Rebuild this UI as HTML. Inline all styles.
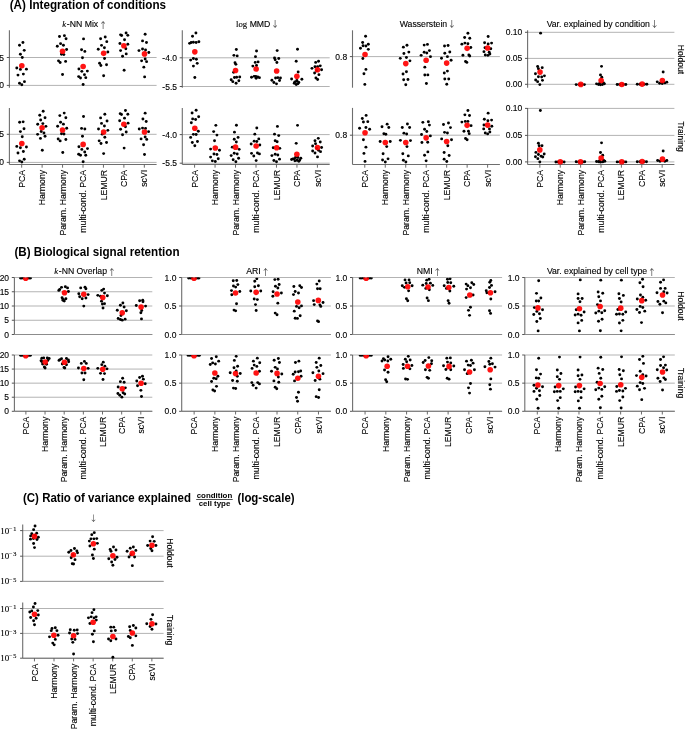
<!DOCTYPE html>
<html><head><meta charset="utf-8"><style>html,body{margin:0;padding:0;background:#fff;}svg{display:block;}</style></head>
<body>
<svg width="685" height="729" viewBox="0 0 685 729">
<rect width="100%" height="100%" fill="#fff"/>
<text transform="translate(9.7,8.8) scale(1,1.1)" font-size="11.7" font-family="'Liberation Sans', Arial, sans-serif" font-weight="bold">(A) Integration of conditions</text>
<text x="84.80" y="26.60" font-size="8.7" font-family="'Liberation Sans', Arial, sans-serif" font-weight="normal" text-anchor="middle" stroke="#000" stroke-width="0.12" ><tspan font-family="'Liberation Serif', 'DejaVu Serif', serif" font-style="italic">k</tspan><tspan dx="0.7">-NN</tspan> Mix <tspan font-family="Noto Sans CJK JP, sans-serif" dx="-2.0" dy="2.0" stroke-width="0" fill="#333">↑</tspan></text>
<line x1="9.40" y1="57.50" x2="156.60" y2="57.50" stroke="#b3b3b3" stroke-width="1.0"/>
<line x1="9.40" y1="85.40" x2="156.60" y2="85.40" stroke="#b3b3b3" stroke-width="1.0"/>
<line x1="9.40" y1="30.30" x2="9.40" y2="87.70" stroke="#6e6e6e" stroke-width="1.1"/>
<line x1="6.80" y1="57.50" x2="9.40" y2="57.50" stroke="#444" stroke-width="0.9"/>
<text x="4.10" y="60.50" font-size="8.5" font-family="'Liberation Sans', Arial, sans-serif" font-weight="normal" text-anchor="end" stroke="#000" stroke-width="0.12" >0.5</text>
<line x1="6.80" y1="85.40" x2="9.40" y2="85.40" stroke="#444" stroke-width="0.9"/>
<text x="4.10" y="88.40" font-size="8.5" font-family="'Liberation Sans', Arial, sans-serif" font-weight="normal" text-anchor="end" stroke="#000" stroke-width="0.12" >0.0</text>
<circle cx="22.92" cy="42.56" r="1.45" fill="#000"/>
<circle cx="19.53" cy="45.30" r="1.45" fill="#000"/>
<circle cx="24.23" cy="50.34" r="1.45" fill="#000"/>
<circle cx="20.40" cy="54.28" r="1.45" fill="#000"/>
<circle cx="22.26" cy="57.56" r="1.45" fill="#000"/>
<circle cx="16.79" cy="67.96" r="1.45" fill="#000"/>
<circle cx="20.40" cy="69.39" r="1.45" fill="#000"/>
<circle cx="26.42" cy="69.17" r="1.45" fill="#000"/>
<circle cx="17.99" cy="75.08" r="1.45" fill="#000"/>
<circle cx="23.36" cy="74.09" r="1.45" fill="#000"/>
<circle cx="19.53" cy="83.29" r="1.45" fill="#000"/>
<circle cx="21.82" cy="84.72" r="1.45" fill="#000"/>
<circle cx="24.45" cy="81.65" r="1.45" fill="#000"/>
<circle cx="21.82" cy="65.77" r="2.8" fill="#f00" fill-opacity="0.92"/>
<circle cx="59.49" cy="36.54" r="1.45" fill="#000"/>
<circle cx="64.42" cy="35.66" r="1.45" fill="#000"/>
<circle cx="66.06" cy="38.73" r="1.45" fill="#000"/>
<circle cx="60.58" cy="43.66" r="1.45" fill="#000"/>
<circle cx="63.43" cy="45.19" r="1.45" fill="#000"/>
<circle cx="57.30" cy="46.28" r="1.45" fill="#000"/>
<circle cx="66.61" cy="49.46" r="1.45" fill="#000"/>
<circle cx="61.46" cy="54.28" r="1.45" fill="#000"/>
<circle cx="63.87" cy="54.61" r="1.45" fill="#000"/>
<circle cx="58.50" cy="60.85" r="1.45" fill="#000"/>
<circle cx="60.15" cy="62.49" r="1.45" fill="#000"/>
<circle cx="65.62" cy="61.39" r="1.45" fill="#000"/>
<circle cx="62.55" cy="74.53" r="1.45" fill="#000"/>
<circle cx="62.55" cy="51.21" r="2.8" fill="#f00" fill-opacity="0.92"/>
<circle cx="83.53" cy="38.91" r="1.45" fill="#000"/>
<circle cx="81.56" cy="49.68" r="1.45" fill="#000"/>
<circle cx="84.85" cy="51.39" r="1.45" fill="#000"/>
<circle cx="82.48" cy="57.69" r="1.45" fill="#000"/>
<circle cx="78.93" cy="68.99" r="1.45" fill="#000"/>
<circle cx="81.82" cy="71.36" r="1.45" fill="#000"/>
<circle cx="87.34" cy="71.09" r="1.45" fill="#000"/>
<circle cx="84.45" cy="74.64" r="1.45" fill="#000"/>
<circle cx="78.67" cy="76.61" r="1.45" fill="#000"/>
<circle cx="80.51" cy="77.93" r="1.45" fill="#000"/>
<circle cx="85.77" cy="77.66" r="1.45" fill="#000"/>
<circle cx="83.14" cy="84.50" r="1.45" fill="#000"/>
<circle cx="83.14" cy="66.50" r="2.8" fill="#f00" fill-opacity="0.92"/>
<circle cx="100.61" cy="38.77" r="1.45" fill="#000"/>
<circle cx="105.21" cy="36.93" r="1.45" fill="#000"/>
<circle cx="106.79" cy="41.66" r="1.45" fill="#000"/>
<circle cx="101.53" cy="45.34" r="1.45" fill="#000"/>
<circle cx="104.42" cy="47.71" r="1.45" fill="#000"/>
<circle cx="98.25" cy="49.28" r="1.45" fill="#000"/>
<circle cx="107.84" cy="52.04" r="1.45" fill="#000"/>
<circle cx="104.55" cy="58.48" r="1.45" fill="#000"/>
<circle cx="99.56" cy="63.21" r="1.45" fill="#000"/>
<circle cx="100.88" cy="65.45" r="1.45" fill="#000"/>
<circle cx="106.53" cy="64.79" r="1.45" fill="#000"/>
<circle cx="103.64" cy="75.82" r="1.45" fill="#000"/>
<circle cx="103.64" cy="53.36" r="2.8" fill="#f00" fill-opacity="0.92"/>
<circle cx="120.58" cy="34.83" r="1.45" fill="#000"/>
<circle cx="121.64" cy="35.49" r="1.45" fill="#000"/>
<circle cx="126.10" cy="32.99" r="1.45" fill="#000"/>
<circle cx="127.81" cy="35.36" r="1.45" fill="#000"/>
<circle cx="124.53" cy="39.82" r="1.45" fill="#000"/>
<circle cx="119.93" cy="43.50" r="1.45" fill="#000"/>
<circle cx="127.81" cy="44.29" r="1.45" fill="#000"/>
<circle cx="125.84" cy="48.76" r="1.45" fill="#000"/>
<circle cx="120.58" cy="50.60" r="1.45" fill="#000"/>
<circle cx="126.23" cy="53.88" r="1.45" fill="#000"/>
<circle cx="122.55" cy="56.25" r="1.45" fill="#000"/>
<circle cx="124.13" cy="70.31" r="1.45" fill="#000"/>
<circle cx="123.87" cy="45.74" r="2.8" fill="#f00" fill-opacity="0.92"/>
<circle cx="145.15" cy="34.31" r="1.45" fill="#000"/>
<circle cx="142.53" cy="40.88" r="1.45" fill="#000"/>
<circle cx="146.47" cy="42.45" r="1.45" fill="#000"/>
<circle cx="142.53" cy="49.02" r="1.45" fill="#000"/>
<circle cx="138.98" cy="50.60" r="1.45" fill="#000"/>
<circle cx="145.55" cy="50.07" r="1.45" fill="#000"/>
<circle cx="148.83" cy="52.44" r="1.45" fill="#000"/>
<circle cx="145.15" cy="59.01" r="1.45" fill="#000"/>
<circle cx="141.61" cy="60.85" r="1.45" fill="#000"/>
<circle cx="146.60" cy="61.64" r="1.45" fill="#000"/>
<circle cx="143.84" cy="67.15" r="1.45" fill="#000"/>
<circle cx="144.63" cy="76.88" r="1.45" fill="#000"/>
<circle cx="144.50" cy="53.88" r="2.8" fill="#f00" fill-opacity="0.92"/>
<line x1="9.40" y1="134.30" x2="156.60" y2="134.30" stroke="#b3b3b3" stroke-width="1.0"/>
<line x1="9.40" y1="162.40" x2="156.60" y2="162.40" stroke="#b3b3b3" stroke-width="1.0"/>
<line x1="9.40" y1="107.90" x2="9.40" y2="164.50" stroke="#6e6e6e" stroke-width="1.1"/>
<line x1="6.80" y1="134.30" x2="9.40" y2="134.30" stroke="#444" stroke-width="0.9"/>
<text x="4.10" y="137.30" font-size="8.5" font-family="'Liberation Sans', Arial, sans-serif" font-weight="normal" text-anchor="end" stroke="#000" stroke-width="0.12" >0.5</text>
<line x1="6.80" y1="162.40" x2="9.40" y2="162.40" stroke="#444" stroke-width="0.9"/>
<text x="4.10" y="165.40" font-size="8.5" font-family="'Liberation Sans', Arial, sans-serif" font-weight="normal" text-anchor="end" stroke="#000" stroke-width="0.12" >0.0</text>
<line x1="9.40" y1="164.50" x2="156.60" y2="164.50" stroke="#6e6e6e" stroke-width="1.1"/>
<line x1="21.67" y1="164.50" x2="21.67" y2="167.70" stroke="#5a5a5a" stroke-width="0.9"/>
<line x1="42.11" y1="164.50" x2="42.11" y2="167.70" stroke="#5a5a5a" stroke-width="0.9"/>
<line x1="62.56" y1="164.50" x2="62.56" y2="167.70" stroke="#5a5a5a" stroke-width="0.9"/>
<line x1="83.00" y1="164.50" x2="83.00" y2="167.70" stroke="#5a5a5a" stroke-width="0.9"/>
<line x1="103.44" y1="164.50" x2="103.44" y2="167.70" stroke="#5a5a5a" stroke-width="0.9"/>
<line x1="123.89" y1="164.50" x2="123.89" y2="167.70" stroke="#5a5a5a" stroke-width="0.9"/>
<line x1="144.33" y1="164.50" x2="144.33" y2="167.70" stroke="#5a5a5a" stroke-width="0.9"/>
<text transform="translate(24.77,169.90) rotate(-90)" font-size="8.7" font-family="'Liberation Sans', Arial, sans-serif" text-anchor="end" stroke="#000" stroke-width="0.12">PCA</text>
<text transform="translate(45.21,169.90) rotate(-90)" font-size="8.7" font-family="'Liberation Sans', Arial, sans-serif" text-anchor="end" stroke="#000" stroke-width="0.12">Harmony</text>
<text transform="translate(65.66,169.90) rotate(-90)" font-size="8.7" font-family="'Liberation Sans', Arial, sans-serif" text-anchor="end" stroke="#000" stroke-width="0.12">Param. Harmony</text>
<text transform="translate(86.10,169.90) rotate(-90)" font-size="8.7" font-family="'Liberation Sans', Arial, sans-serif" text-anchor="end" stroke="#000" stroke-width="0.12">multi-cond. PCA</text>
<text transform="translate(106.54,169.90) rotate(-90)" font-size="8.7" font-family="'Liberation Sans', Arial, sans-serif" text-anchor="end" stroke="#000" stroke-width="0.12">LEMUR</text>
<text transform="translate(126.99,169.90) rotate(-90)" font-size="8.7" font-family="'Liberation Sans', Arial, sans-serif" text-anchor="end" stroke="#000" stroke-width="0.12">CPA</text>
<text transform="translate(147.43,169.90) rotate(-90)" font-size="8.7" font-family="'Liberation Sans', Arial, sans-serif" text-anchor="end" stroke="#000" stroke-width="0.12">scVI</text>
<circle cx="19.64" cy="122.19" r="1.45" fill="#000"/>
<circle cx="23.14" cy="121.86" r="1.45" fill="#000"/>
<circle cx="24.01" cy="128.76" r="1.45" fill="#000"/>
<circle cx="20.40" cy="131.61" r="1.45" fill="#000"/>
<circle cx="22.26" cy="136.75" r="1.45" fill="#000"/>
<circle cx="16.79" cy="146.39" r="1.45" fill="#000"/>
<circle cx="20.40" cy="147.70" r="1.45" fill="#000"/>
<circle cx="26.42" cy="147.04" r="1.45" fill="#000"/>
<circle cx="17.99" cy="152.96" r="1.45" fill="#000"/>
<circle cx="23.36" cy="151.53" r="1.45" fill="#000"/>
<circle cx="19.53" cy="160.84" r="1.45" fill="#000"/>
<circle cx="21.82" cy="161.93" r="1.45" fill="#000"/>
<circle cx="24.23" cy="159.20" r="1.45" fill="#000"/>
<circle cx="21.82" cy="143.54" r="2.8" fill="#f00" fill-opacity="0.92"/>
<circle cx="43.18" cy="111.24" r="1.45" fill="#000"/>
<circle cx="39.78" cy="115.18" r="1.45" fill="#000"/>
<circle cx="45.04" cy="117.70" r="1.45" fill="#000"/>
<circle cx="40.66" cy="120.00" r="1.45" fill="#000"/>
<circle cx="37.70" cy="124.27" r="1.45" fill="#000"/>
<circle cx="42.85" cy="123.61" r="1.45" fill="#000"/>
<circle cx="45.91" cy="126.35" r="1.45" fill="#000"/>
<circle cx="41.20" cy="131.50" r="1.45" fill="#000"/>
<circle cx="43.94" cy="133.03" r="1.45" fill="#000"/>
<circle cx="37.59" cy="134.34" r="1.45" fill="#000"/>
<circle cx="45.04" cy="136.20" r="1.45" fill="#000"/>
<circle cx="40.44" cy="138.39" r="1.45" fill="#000"/>
<circle cx="42.30" cy="150.22" r="1.45" fill="#000"/>
<circle cx="42.08" cy="127.77" r="2.8" fill="#f00" fill-opacity="0.92"/>
<circle cx="59.82" cy="115.62" r="1.45" fill="#000"/>
<circle cx="64.20" cy="113.10" r="1.45" fill="#000"/>
<circle cx="65.84" cy="117.70" r="1.45" fill="#000"/>
<circle cx="60.58" cy="122.19" r="1.45" fill="#000"/>
<circle cx="63.43" cy="124.16" r="1.45" fill="#000"/>
<circle cx="57.63" cy="126.24" r="1.45" fill="#000"/>
<circle cx="66.72" cy="128.21" r="1.45" fill="#000"/>
<circle cx="61.46" cy="133.69" r="1.45" fill="#000"/>
<circle cx="63.98" cy="134.01" r="1.45" fill="#000"/>
<circle cx="58.18" cy="138.94" r="1.45" fill="#000"/>
<circle cx="60.15" cy="140.91" r="1.45" fill="#000"/>
<circle cx="65.84" cy="139.49" r="1.45" fill="#000"/>
<circle cx="62.77" cy="152.52" r="1.45" fill="#000"/>
<circle cx="62.55" cy="129.96" r="2.8" fill="#f00" fill-opacity="0.92"/>
<circle cx="83.53" cy="116.43" r="1.45" fill="#000"/>
<circle cx="81.56" cy="128.39" r="1.45" fill="#000"/>
<circle cx="84.85" cy="129.04" r="1.45" fill="#000"/>
<circle cx="82.48" cy="136.27" r="1.45" fill="#000"/>
<circle cx="78.93" cy="146.78" r="1.45" fill="#000"/>
<circle cx="81.82" cy="149.41" r="1.45" fill="#000"/>
<circle cx="87.47" cy="148.62" r="1.45" fill="#000"/>
<circle cx="84.72" cy="152.04" r="1.45" fill="#000"/>
<circle cx="78.67" cy="154.27" r="1.45" fill="#000"/>
<circle cx="80.51" cy="155.32" r="1.45" fill="#000"/>
<circle cx="85.77" cy="155.19" r="1.45" fill="#000"/>
<circle cx="83.14" cy="161.76" r="1.45" fill="#000"/>
<circle cx="83.14" cy="144.42" r="2.8" fill="#f00" fill-opacity="0.92"/>
<circle cx="100.61" cy="117.88" r="1.45" fill="#000"/>
<circle cx="104.82" cy="114.20" r="1.45" fill="#000"/>
<circle cx="107.05" cy="121.03" r="1.45" fill="#000"/>
<circle cx="101.53" cy="123.39" r="1.45" fill="#000"/>
<circle cx="104.42" cy="126.02" r="1.45" fill="#000"/>
<circle cx="98.51" cy="129.04" r="1.45" fill="#000"/>
<circle cx="107.84" cy="130.36" r="1.45" fill="#000"/>
<circle cx="102.19" cy="134.17" r="1.45" fill="#000"/>
<circle cx="104.82" cy="137.32" r="1.45" fill="#000"/>
<circle cx="99.17" cy="140.87" r="1.45" fill="#000"/>
<circle cx="101.01" cy="143.50" r="1.45" fill="#000"/>
<circle cx="106.53" cy="142.45" r="1.45" fill="#000"/>
<circle cx="103.64" cy="153.61" r="1.45" fill="#000"/>
<circle cx="103.64" cy="132.07" r="2.8" fill="#f00" fill-opacity="0.92"/>
<circle cx="120.19" cy="113.67" r="1.45" fill="#000"/>
<circle cx="121.50" cy="114.46" r="1.45" fill="#000"/>
<circle cx="125.45" cy="110.52" r="1.45" fill="#000"/>
<circle cx="127.81" cy="114.20" r="1.45" fill="#000"/>
<circle cx="124.53" cy="118.14" r="1.45" fill="#000"/>
<circle cx="119.66" cy="120.77" r="1.45" fill="#000"/>
<circle cx="128.07" cy="123.13" r="1.45" fill="#000"/>
<circle cx="125.45" cy="126.68" r="1.45" fill="#000"/>
<circle cx="120.58" cy="129.31" r="1.45" fill="#000"/>
<circle cx="126.23" cy="131.93" r="1.45" fill="#000"/>
<circle cx="122.55" cy="134.69" r="1.45" fill="#000"/>
<circle cx="124.13" cy="148.09" r="1.45" fill="#000"/>
<circle cx="123.87" cy="124.18" r="2.8" fill="#f00" fill-opacity="0.92"/>
<circle cx="145.15" cy="113.15" r="1.45" fill="#000"/>
<circle cx="142.92" cy="118.93" r="1.45" fill="#000"/>
<circle cx="146.20" cy="121.55" r="1.45" fill="#000"/>
<circle cx="139.24" cy="129.04" r="1.45" fill="#000"/>
<circle cx="142.53" cy="128.12" r="1.45" fill="#000"/>
<circle cx="145.55" cy="128.39" r="1.45" fill="#000"/>
<circle cx="148.57" cy="131.67" r="1.45" fill="#000"/>
<circle cx="145.15" cy="136.93" r="1.45" fill="#000"/>
<circle cx="141.08" cy="138.90" r="1.45" fill="#000"/>
<circle cx="146.73" cy="139.42" r="1.45" fill="#000"/>
<circle cx="143.58" cy="144.81" r="1.45" fill="#000"/>
<circle cx="144.50" cy="154.53" r="1.45" fill="#000"/>
<circle cx="144.50" cy="132.07" r="2.8" fill="#f00" fill-opacity="0.92"/>
<text x="257.80" y="26.60" font-size="8.7" font-family="'Liberation Sans', Arial, sans-serif" font-weight="normal" text-anchor="middle" stroke="#000" stroke-width="0.12" ><tspan font-family="'Liberation Serif', 'DejaVu Serif', serif">log</tspan> MMD <tspan font-family="Noto Sans CJK JP, sans-serif" dx="-2.0" dy="0.6" stroke-width="0" fill="#333">↓</tspan></text>
<line x1="182.30" y1="57.80" x2="329.70" y2="57.80" stroke="#b3b3b3" stroke-width="1.0"/>
<line x1="182.30" y1="86.50" x2="329.70" y2="86.50" stroke="#b3b3b3" stroke-width="1.0"/>
<line x1="182.30" y1="30.30" x2="182.30" y2="87.70" stroke="#6e6e6e" stroke-width="1.1"/>
<line x1="179.70" y1="57.80" x2="182.30" y2="57.80" stroke="#444" stroke-width="0.9"/>
<text x="177.00" y="60.80" font-size="8.5" font-family="'Liberation Sans', Arial, sans-serif" font-weight="normal" text-anchor="end" stroke="#000" stroke-width="0.12" >-4.0</text>
<line x1="179.70" y1="86.50" x2="182.30" y2="86.50" stroke="#444" stroke-width="0.9"/>
<text x="177.00" y="89.50" font-size="8.5" font-family="'Liberation Sans', Arial, sans-serif" font-weight="normal" text-anchor="end" stroke="#000" stroke-width="0.12" >-5.5</text>
<circle cx="195.92" cy="32.93" r="1.45" fill="#000"/>
<circle cx="192.53" cy="36.21" r="1.45" fill="#000"/>
<circle cx="189.57" cy="43.33" r="1.45" fill="#000"/>
<circle cx="191.21" cy="42.56" r="1.45" fill="#000"/>
<circle cx="193.40" cy="42.23" r="1.45" fill="#000"/>
<circle cx="196.14" cy="42.45" r="1.45" fill="#000"/>
<circle cx="198.88" cy="41.69" r="1.45" fill="#000"/>
<circle cx="190.66" cy="60.08" r="1.45" fill="#000"/>
<circle cx="193.40" cy="58.44" r="1.45" fill="#000"/>
<circle cx="196.36" cy="59.20" r="1.45" fill="#000"/>
<circle cx="197.23" cy="63.36" r="1.45" fill="#000"/>
<circle cx="193.40" cy="66.10" r="1.45" fill="#000"/>
<circle cx="194.82" cy="77.49" r="1.45" fill="#000"/>
<circle cx="194.82" cy="51.87" r="2.8" fill="#f00" fill-opacity="0.92"/>
<circle cx="236.32" cy="49.46" r="1.45" fill="#000"/>
<circle cx="233.91" cy="55.37" r="1.45" fill="#000"/>
<circle cx="237.20" cy="55.92" r="1.45" fill="#000"/>
<circle cx="235.01" cy="62.82" r="1.45" fill="#000"/>
<circle cx="235.88" cy="64.35" r="1.45" fill="#000"/>
<circle cx="233.58" cy="72.34" r="1.45" fill="#000"/>
<circle cx="234.46" cy="77.49" r="1.45" fill="#000"/>
<circle cx="236.65" cy="77.27" r="1.45" fill="#000"/>
<circle cx="239.72" cy="77.05" r="1.45" fill="#000"/>
<circle cx="231.18" cy="79.68" r="1.45" fill="#000"/>
<circle cx="232.82" cy="81.65" r="1.45" fill="#000"/>
<circle cx="236.10" cy="83.29" r="1.45" fill="#000"/>
<circle cx="238.84" cy="80.77" r="1.45" fill="#000"/>
<circle cx="235.55" cy="70.48" r="2.8" fill="#f00" fill-opacity="0.92"/>
<circle cx="256.53" cy="50.99" r="1.45" fill="#000"/>
<circle cx="255.48" cy="56.64" r="1.45" fill="#000"/>
<circle cx="255.22" cy="62.42" r="1.45" fill="#000"/>
<circle cx="258.11" cy="61.90" r="1.45" fill="#000"/>
<circle cx="252.85" cy="66.10" r="1.45" fill="#000"/>
<circle cx="256.53" cy="65.45" r="1.45" fill="#000"/>
<circle cx="251.54" cy="77.27" r="1.45" fill="#000"/>
<circle cx="254.17" cy="76.35" r="1.45" fill="#000"/>
<circle cx="256.14" cy="78.19" r="1.45" fill="#000"/>
<circle cx="257.72" cy="76.88" r="1.45" fill="#000"/>
<circle cx="259.42" cy="77.66" r="1.45" fill="#000"/>
<circle cx="255.74" cy="76.35" r="1.45" fill="#000"/>
<circle cx="256.14" cy="68.99" r="2.8" fill="#f00" fill-opacity="0.92"/>
<circle cx="277.16" cy="50.60" r="1.45" fill="#000"/>
<circle cx="274.53" cy="57.96" r="1.45" fill="#000"/>
<circle cx="278.74" cy="58.48" r="1.45" fill="#000"/>
<circle cx="275.19" cy="59.80" r="1.45" fill="#000"/>
<circle cx="276.90" cy="62.55" r="1.45" fill="#000"/>
<circle cx="275.58" cy="77.93" r="1.45" fill="#000"/>
<circle cx="277.82" cy="77.66" r="1.45" fill="#000"/>
<circle cx="280.45" cy="77.93" r="1.45" fill="#000"/>
<circle cx="271.91" cy="80.29" r="1.45" fill="#000"/>
<circle cx="279.53" cy="80.55" r="1.45" fill="#000"/>
<circle cx="273.88" cy="82.53" r="1.45" fill="#000"/>
<circle cx="276.50" cy="83.84" r="1.45" fill="#000"/>
<circle cx="276.64" cy="70.96" r="2.8" fill="#f00" fill-opacity="0.92"/>
<circle cx="297.53" cy="49.28" r="1.45" fill="#000"/>
<circle cx="296.21" cy="61.24" r="1.45" fill="#000"/>
<circle cx="298.18" cy="72.01" r="1.45" fill="#000"/>
<circle cx="291.61" cy="78.98" r="1.45" fill="#000"/>
<circle cx="301.86" cy="79.24" r="1.45" fill="#000"/>
<circle cx="294.90" cy="81.87" r="1.45" fill="#000"/>
<circle cx="296.87" cy="81.21" r="1.45" fill="#000"/>
<circle cx="298.84" cy="82.53" r="1.45" fill="#000"/>
<circle cx="294.24" cy="83.18" r="1.45" fill="#000"/>
<circle cx="296.21" cy="84.50" r="1.45" fill="#000"/>
<circle cx="297.92" cy="83.84" r="1.45" fill="#000"/>
<circle cx="296.87" cy="80.55" r="1.45" fill="#000"/>
<circle cx="296.87" cy="76.35" r="2.8" fill="#f00" fill-opacity="0.92"/>
<circle cx="318.55" cy="61.24" r="1.45" fill="#000"/>
<circle cx="315.66" cy="62.42" r="1.45" fill="#000"/>
<circle cx="320.26" cy="65.84" r="1.45" fill="#000"/>
<circle cx="311.98" cy="68.34" r="1.45" fill="#000"/>
<circle cx="315.00" cy="66.76" r="1.45" fill="#000"/>
<circle cx="317.63" cy="66.76" r="1.45" fill="#000"/>
<circle cx="321.57" cy="69.78" r="1.45" fill="#000"/>
<circle cx="314.61" cy="73.07" r="1.45" fill="#000"/>
<circle cx="318.94" cy="74.64" r="1.45" fill="#000"/>
<circle cx="315.92" cy="77.93" r="1.45" fill="#000"/>
<circle cx="317.63" cy="79.50" r="1.45" fill="#000"/>
<circle cx="316.58" cy="70.70" r="1.45" fill="#000"/>
<circle cx="317.50" cy="69.78" r="2.8" fill="#f00" fill-opacity="0.92"/>
<line x1="182.30" y1="134.60" x2="329.70" y2="134.60" stroke="#b3b3b3" stroke-width="1.0"/>
<line x1="182.30" y1="163.20" x2="329.70" y2="163.20" stroke="#b3b3b3" stroke-width="1.0"/>
<line x1="182.30" y1="107.90" x2="182.30" y2="164.50" stroke="#6e6e6e" stroke-width="1.1"/>
<line x1="179.70" y1="134.60" x2="182.30" y2="134.60" stroke="#444" stroke-width="0.9"/>
<text x="177.00" y="137.60" font-size="8.5" font-family="'Liberation Sans', Arial, sans-serif" font-weight="normal" text-anchor="end" stroke="#000" stroke-width="0.12" >-4.0</text>
<line x1="179.70" y1="163.20" x2="182.30" y2="163.20" stroke="#444" stroke-width="0.9"/>
<text x="177.00" y="166.20" font-size="8.5" font-family="'Liberation Sans', Arial, sans-serif" font-weight="normal" text-anchor="end" stroke="#000" stroke-width="0.12" >-5.5</text>
<line x1="182.30" y1="164.50" x2="329.70" y2="164.50" stroke="#6e6e6e" stroke-width="1.1"/>
<line x1="194.58" y1="164.50" x2="194.58" y2="167.70" stroke="#5a5a5a" stroke-width="0.9"/>
<line x1="215.06" y1="164.50" x2="215.06" y2="167.70" stroke="#5a5a5a" stroke-width="0.9"/>
<line x1="235.53" y1="164.50" x2="235.53" y2="167.70" stroke="#5a5a5a" stroke-width="0.9"/>
<line x1="256.00" y1="164.50" x2="256.00" y2="167.70" stroke="#5a5a5a" stroke-width="0.9"/>
<line x1="276.47" y1="164.50" x2="276.47" y2="167.70" stroke="#5a5a5a" stroke-width="0.9"/>
<line x1="296.94" y1="164.50" x2="296.94" y2="167.70" stroke="#5a5a5a" stroke-width="0.9"/>
<line x1="317.42" y1="164.50" x2="317.42" y2="167.70" stroke="#5a5a5a" stroke-width="0.9"/>
<text transform="translate(197.68,169.90) rotate(-90)" font-size="8.7" font-family="'Liberation Sans', Arial, sans-serif" text-anchor="end" stroke="#000" stroke-width="0.12">PCA</text>
<text transform="translate(218.16,169.90) rotate(-90)" font-size="8.7" font-family="'Liberation Sans', Arial, sans-serif" text-anchor="end" stroke="#000" stroke-width="0.12">Harmony</text>
<text transform="translate(238.63,169.90) rotate(-90)" font-size="8.7" font-family="'Liberation Sans', Arial, sans-serif" text-anchor="end" stroke="#000" stroke-width="0.12">Param. Harmony</text>
<text transform="translate(259.10,169.90) rotate(-90)" font-size="8.7" font-family="'Liberation Sans', Arial, sans-serif" text-anchor="end" stroke="#000" stroke-width="0.12">multi-cond. PCA</text>
<text transform="translate(279.57,169.90) rotate(-90)" font-size="8.7" font-family="'Liberation Sans', Arial, sans-serif" text-anchor="end" stroke="#000" stroke-width="0.12">LEMUR</text>
<text transform="translate(300.04,169.90) rotate(-90)" font-size="8.7" font-family="'Liberation Sans', Arial, sans-serif" text-anchor="end" stroke="#000" stroke-width="0.12">CPA</text>
<text transform="translate(320.52,169.90) rotate(-90)" font-size="8.7" font-family="'Liberation Sans', Arial, sans-serif" text-anchor="end" stroke="#000" stroke-width="0.12">scVI</text>
<circle cx="196.14" cy="110.26" r="1.45" fill="#000"/>
<circle cx="192.09" cy="112.99" r="1.45" fill="#000"/>
<circle cx="192.64" cy="118.91" r="1.45" fill="#000"/>
<circle cx="195.59" cy="119.45" r="1.45" fill="#000"/>
<circle cx="198.66" cy="116.82" r="1.45" fill="#000"/>
<circle cx="191.32" cy="122.74" r="1.45" fill="#000"/>
<circle cx="198.33" cy="131.28" r="1.45" fill="#000"/>
<circle cx="193.40" cy="134.34" r="1.45" fill="#000"/>
<circle cx="196.14" cy="134.56" r="1.45" fill="#000"/>
<circle cx="190.66" cy="137.41" r="1.45" fill="#000"/>
<circle cx="192.31" cy="142.45" r="1.45" fill="#000"/>
<circle cx="197.45" cy="141.57" r="1.45" fill="#000"/>
<circle cx="194.82" cy="145.73" r="1.45" fill="#000"/>
<circle cx="194.82" cy="128.32" r="2.8" fill="#f00" fill-opacity="0.92"/>
<circle cx="215.85" cy="125.36" r="1.45" fill="#000"/>
<circle cx="213.66" cy="131.61" r="1.45" fill="#000"/>
<circle cx="216.94" cy="135.11" r="1.45" fill="#000"/>
<circle cx="214.53" cy="140.80" r="1.45" fill="#000"/>
<circle cx="210.59" cy="149.12" r="1.45" fill="#000"/>
<circle cx="219.46" cy="150.22" r="1.45" fill="#000"/>
<circle cx="213.99" cy="154.05" r="1.45" fill="#000"/>
<circle cx="216.94" cy="154.49" r="1.45" fill="#000"/>
<circle cx="210.59" cy="157.12" r="1.45" fill="#000"/>
<circle cx="218.26" cy="158.76" r="1.45" fill="#000"/>
<circle cx="212.34" cy="160.84" r="1.45" fill="#000"/>
<circle cx="215.30" cy="161.50" r="1.45" fill="#000"/>
<circle cx="215.30" cy="148.03" r="2.8" fill="#f00" fill-opacity="0.92"/>
<circle cx="236.43" cy="125.26" r="1.45" fill="#000"/>
<circle cx="234.46" cy="132.15" r="1.45" fill="#000"/>
<circle cx="238.07" cy="137.41" r="1.45" fill="#000"/>
<circle cx="234.24" cy="139.27" r="1.45" fill="#000"/>
<circle cx="236.32" cy="142.01" r="1.45" fill="#000"/>
<circle cx="232.27" cy="147.15" r="1.45" fill="#000"/>
<circle cx="239.17" cy="149.34" r="1.45" fill="#000"/>
<circle cx="234.24" cy="153.18" r="1.45" fill="#000"/>
<circle cx="237.20" cy="154.05" r="1.45" fill="#000"/>
<circle cx="231.18" cy="155.58" r="1.45" fill="#000"/>
<circle cx="238.62" cy="158.32" r="1.45" fill="#000"/>
<circle cx="233.15" cy="159.74" r="1.45" fill="#000"/>
<circle cx="235.88" cy="161.72" r="1.45" fill="#000"/>
<circle cx="235.55" cy="147.15" r="2.8" fill="#f00" fill-opacity="0.92"/>
<circle cx="256.80" cy="127.99" r="1.45" fill="#000"/>
<circle cx="254.82" cy="134.17" r="1.45" fill="#000"/>
<circle cx="258.77" cy="138.90" r="1.45" fill="#000"/>
<circle cx="254.17" cy="141.13" r="1.45" fill="#000"/>
<circle cx="256.80" cy="141.53" r="1.45" fill="#000"/>
<circle cx="251.15" cy="144.02" r="1.45" fill="#000"/>
<circle cx="259.82" cy="145.07" r="1.45" fill="#000"/>
<circle cx="251.54" cy="153.35" r="1.45" fill="#000"/>
<circle cx="253.77" cy="155.98" r="1.45" fill="#000"/>
<circle cx="257.45" cy="152.96" r="1.45" fill="#000"/>
<circle cx="259.42" cy="153.88" r="1.45" fill="#000"/>
<circle cx="256.14" cy="160.58" r="1.45" fill="#000"/>
<circle cx="256.14" cy="145.99" r="2.8" fill="#f00" fill-opacity="0.92"/>
<circle cx="277.42" cy="126.42" r="1.45" fill="#000"/>
<circle cx="274.53" cy="134.17" r="1.45" fill="#000"/>
<circle cx="278.74" cy="135.61" r="1.45" fill="#000"/>
<circle cx="275.19" cy="140.74" r="1.45" fill="#000"/>
<circle cx="277.16" cy="141.79" r="1.45" fill="#000"/>
<circle cx="273.22" cy="147.70" r="1.45" fill="#000"/>
<circle cx="279.79" cy="148.36" r="1.45" fill="#000"/>
<circle cx="275.19" cy="154.27" r="1.45" fill="#000"/>
<circle cx="277.82" cy="154.93" r="1.45" fill="#000"/>
<circle cx="271.91" cy="155.58" r="1.45" fill="#000"/>
<circle cx="279.53" cy="159.13" r="1.45" fill="#000"/>
<circle cx="273.88" cy="160.45" r="1.45" fill="#000"/>
<circle cx="276.50" cy="161.76" r="1.45" fill="#000"/>
<circle cx="276.64" cy="147.70" r="2.8" fill="#f00" fill-opacity="0.92"/>
<circle cx="297.53" cy="125.36" r="1.45" fill="#000"/>
<circle cx="296.21" cy="143.36" r="1.45" fill="#000"/>
<circle cx="292.93" cy="158.87" r="1.45" fill="#000"/>
<circle cx="294.90" cy="160.84" r="1.45" fill="#000"/>
<circle cx="296.87" cy="160.18" r="1.45" fill="#000"/>
<circle cx="298.84" cy="161.23" r="1.45" fill="#000"/>
<circle cx="300.81" cy="158.21" r="1.45" fill="#000"/>
<circle cx="295.55" cy="157.55" r="1.45" fill="#000"/>
<circle cx="297.92" cy="157.55" r="1.45" fill="#000"/>
<circle cx="291.61" cy="159.53" r="1.45" fill="#000"/>
<circle cx="299.76" cy="159.92" r="1.45" fill="#000"/>
<circle cx="294.24" cy="158.87" r="1.45" fill="#000"/>
<circle cx="296.87" cy="154.27" r="2.8" fill="#f00" fill-opacity="0.92"/>
<circle cx="318.28" cy="138.37" r="1.45" fill="#000"/>
<circle cx="315.00" cy="140.74" r="1.45" fill="#000"/>
<circle cx="320.26" cy="142.05" r="1.45" fill="#000"/>
<circle cx="315.53" cy="143.76" r="1.45" fill="#000"/>
<circle cx="312.64" cy="145.99" r="1.45" fill="#000"/>
<circle cx="321.57" cy="147.44" r="1.45" fill="#000"/>
<circle cx="312.64" cy="150.99" r="1.45" fill="#000"/>
<circle cx="315.00" cy="152.96" r="1.45" fill="#000"/>
<circle cx="320.52" cy="151.64" r="1.45" fill="#000"/>
<circle cx="317.50" cy="156.90" r="1.45" fill="#000"/>
<circle cx="318.55" cy="150.33" r="1.45" fill="#000"/>
<circle cx="316.58" cy="148.36" r="1.45" fill="#000"/>
<circle cx="317.50" cy="147.44" r="2.8" fill="#f00" fill-opacity="0.92"/>
<text x="428.00" y="26.60" font-size="8.7" font-family="'Liberation Sans', Arial, sans-serif" font-weight="normal" text-anchor="middle" stroke="#000" stroke-width="0.12" >Wasserstein <tspan font-family="Noto Sans CJK JP, sans-serif" dx="-2.0" dy="0.6" stroke-width="0" fill="#333">↓</tspan></text>
<line x1="352.50" y1="56.60" x2="499.90" y2="56.60" stroke="#b3b3b3" stroke-width="1.0"/>
<line x1="352.50" y1="30.30" x2="352.50" y2="87.70" stroke="#6e6e6e" stroke-width="1.1"/>
<line x1="349.90" y1="56.60" x2="352.50" y2="56.60" stroke="#444" stroke-width="0.9"/>
<text x="347.20" y="59.60" font-size="8.5" font-family="'Liberation Sans', Arial, sans-serif" font-weight="normal" text-anchor="end" stroke="#000" stroke-width="0.12" >0.8</text>
<circle cx="365.59" cy="36.21" r="1.45" fill="#000"/>
<circle cx="362.64" cy="42.45" r="1.45" fill="#000"/>
<circle cx="368.33" cy="44.20" r="1.45" fill="#000"/>
<circle cx="363.07" cy="45.74" r="1.45" fill="#000"/>
<circle cx="365.92" cy="46.07" r="1.45" fill="#000"/>
<circle cx="360.45" cy="48.26" r="1.45" fill="#000"/>
<circle cx="368.33" cy="49.35" r="1.45" fill="#000"/>
<circle cx="362.85" cy="58.44" r="1.45" fill="#000"/>
<circle cx="365.92" cy="69.39" r="1.45" fill="#000"/>
<circle cx="363.95" cy="73.77" r="1.45" fill="#000"/>
<circle cx="364.82" cy="84.39" r="1.45" fill="#000"/>
<circle cx="365.04" cy="54.50" r="2.8" fill="#f00" fill-opacity="0.92"/>
<circle cx="403.36" cy="47.16" r="1.45" fill="#000"/>
<circle cx="406.98" cy="45.30" r="1.45" fill="#000"/>
<circle cx="403.91" cy="53.51" r="1.45" fill="#000"/>
<circle cx="408.84" cy="52.09" r="1.45" fill="#000"/>
<circle cx="406.43" cy="57.56" r="1.45" fill="#000"/>
<circle cx="400.30" cy="58.33" r="1.45" fill="#000"/>
<circle cx="409.93" cy="60.85" r="1.45" fill="#000"/>
<circle cx="406.43" cy="71.80" r="1.45" fill="#000"/>
<circle cx="403.04" cy="73.99" r="1.45" fill="#000"/>
<circle cx="403.69" cy="79.68" r="1.45" fill="#000"/>
<circle cx="407.96" cy="79.46" r="1.45" fill="#000"/>
<circle cx="405.77" cy="84.72" r="1.45" fill="#000"/>
<circle cx="405.77" cy="63.58" r="2.8" fill="#f00" fill-opacity="0.92"/>
<circle cx="424.17" cy="45.08" r="1.45" fill="#000"/>
<circle cx="427.45" cy="44.42" r="1.45" fill="#000"/>
<circle cx="424.17" cy="52.31" r="1.45" fill="#000"/>
<circle cx="426.80" cy="52.96" r="1.45" fill="#000"/>
<circle cx="429.42" cy="50.60" r="1.45" fill="#000"/>
<circle cx="421.15" cy="55.33" r="1.45" fill="#000"/>
<circle cx="430.47" cy="56.64" r="1.45" fill="#000"/>
<circle cx="424.82" cy="67.15" r="1.45" fill="#000"/>
<circle cx="424.82" cy="75.04" r="1.45" fill="#000"/>
<circle cx="427.85" cy="74.91" r="1.45" fill="#000"/>
<circle cx="426.40" cy="83.45" r="1.45" fill="#000"/>
<circle cx="426.14" cy="60.19" r="2.8" fill="#f00" fill-opacity="0.92"/>
<circle cx="444.53" cy="46.00" r="1.45" fill="#000"/>
<circle cx="448.08" cy="45.47" r="1.45" fill="#000"/>
<circle cx="444.80" cy="53.23" r="1.45" fill="#000"/>
<circle cx="449.79" cy="52.04" r="1.45" fill="#000"/>
<circle cx="447.42" cy="56.64" r="1.45" fill="#000"/>
<circle cx="441.51" cy="58.22" r="1.45" fill="#000"/>
<circle cx="451.10" cy="60.19" r="1.45" fill="#000"/>
<circle cx="447.42" cy="71.09" r="1.45" fill="#000"/>
<circle cx="444.27" cy="72.93" r="1.45" fill="#000"/>
<circle cx="444.80" cy="78.98" r="1.45" fill="#000"/>
<circle cx="448.74" cy="78.98" r="1.45" fill="#000"/>
<circle cx="446.77" cy="84.23" r="1.45" fill="#000"/>
<circle cx="446.64" cy="63.08" r="2.8" fill="#f00" fill-opacity="0.92"/>
<circle cx="467.92" cy="33.26" r="1.45" fill="#000"/>
<circle cx="464.64" cy="37.46" r="1.45" fill="#000"/>
<circle cx="469.76" cy="38.25" r="1.45" fill="#000"/>
<circle cx="461.88" cy="44.16" r="1.45" fill="#000"/>
<circle cx="464.90" cy="43.11" r="1.45" fill="#000"/>
<circle cx="467.92" cy="43.77" r="1.45" fill="#000"/>
<circle cx="470.81" cy="47.45" r="1.45" fill="#000"/>
<circle cx="462.93" cy="55.20" r="1.45" fill="#000"/>
<circle cx="468.84" cy="54.93" r="1.45" fill="#000"/>
<circle cx="469.76" cy="55.99" r="1.45" fill="#000"/>
<circle cx="465.55" cy="61.50" r="1.45" fill="#000"/>
<circle cx="466.87" cy="62.42" r="1.45" fill="#000"/>
<circle cx="467.13" cy="48.36" r="2.8" fill="#f00" fill-opacity="0.92"/>
<circle cx="488.15" cy="36.54" r="1.45" fill="#000"/>
<circle cx="484.61" cy="42.72" r="1.45" fill="#000"/>
<circle cx="488.15" cy="44.03" r="1.45" fill="#000"/>
<circle cx="491.57" cy="43.11" r="1.45" fill="#000"/>
<circle cx="485.00" cy="47.71" r="1.45" fill="#000"/>
<circle cx="490.78" cy="48.76" r="1.45" fill="#000"/>
<circle cx="483.95" cy="51.65" r="1.45" fill="#000"/>
<circle cx="489.20" cy="52.31" r="1.45" fill="#000"/>
<circle cx="485.26" cy="54.93" r="1.45" fill="#000"/>
<circle cx="487.89" cy="55.33" r="1.45" fill="#000"/>
<circle cx="489.86" cy="54.01" r="1.45" fill="#000"/>
<circle cx="487.63" cy="47.97" r="2.8" fill="#f00" fill-opacity="0.92"/>
<line x1="352.50" y1="135.20" x2="499.90" y2="135.20" stroke="#b3b3b3" stroke-width="1.0"/>
<line x1="352.50" y1="107.90" x2="352.50" y2="164.50" stroke="#6e6e6e" stroke-width="1.1"/>
<line x1="349.90" y1="135.20" x2="352.50" y2="135.20" stroke="#444" stroke-width="0.9"/>
<text x="347.20" y="138.20" font-size="8.5" font-family="'Liberation Sans', Arial, sans-serif" font-weight="normal" text-anchor="end" stroke="#000" stroke-width="0.12" >0.8</text>
<line x1="352.50" y1="164.50" x2="499.90" y2="164.50" stroke="#6e6e6e" stroke-width="1.1"/>
<line x1="364.78" y1="164.50" x2="364.78" y2="167.70" stroke="#5a5a5a" stroke-width="0.9"/>
<line x1="385.26" y1="164.50" x2="385.26" y2="167.70" stroke="#5a5a5a" stroke-width="0.9"/>
<line x1="405.73" y1="164.50" x2="405.73" y2="167.70" stroke="#5a5a5a" stroke-width="0.9"/>
<line x1="426.20" y1="164.50" x2="426.20" y2="167.70" stroke="#5a5a5a" stroke-width="0.9"/>
<line x1="446.67" y1="164.50" x2="446.67" y2="167.70" stroke="#5a5a5a" stroke-width="0.9"/>
<line x1="467.14" y1="164.50" x2="467.14" y2="167.70" stroke="#5a5a5a" stroke-width="0.9"/>
<line x1="487.62" y1="164.50" x2="487.62" y2="167.70" stroke="#5a5a5a" stroke-width="0.9"/>
<text transform="translate(367.88,169.90) rotate(-90)" font-size="8.7" font-family="'Liberation Sans', Arial, sans-serif" text-anchor="end" stroke="#000" stroke-width="0.12">PCA</text>
<text transform="translate(388.36,169.90) rotate(-90)" font-size="8.7" font-family="'Liberation Sans', Arial, sans-serif" text-anchor="end" stroke="#000" stroke-width="0.12">Harmony</text>
<text transform="translate(408.83,169.90) rotate(-90)" font-size="8.7" font-family="'Liberation Sans', Arial, sans-serif" text-anchor="end" stroke="#000" stroke-width="0.12">Param. Harmony</text>
<text transform="translate(429.30,169.90) rotate(-90)" font-size="8.7" font-family="'Liberation Sans', Arial, sans-serif" text-anchor="end" stroke="#000" stroke-width="0.12">multi-cond. PCA</text>
<text transform="translate(449.77,169.90) rotate(-90)" font-size="8.7" font-family="'Liberation Sans', Arial, sans-serif" text-anchor="end" stroke="#000" stroke-width="0.12">LEMUR</text>
<text transform="translate(470.24,169.90) rotate(-90)" font-size="8.7" font-family="'Liberation Sans', Arial, sans-serif" text-anchor="end" stroke="#000" stroke-width="0.12">CPA</text>
<text transform="translate(490.72,169.90) rotate(-90)" font-size="8.7" font-family="'Liberation Sans', Arial, sans-serif" text-anchor="end" stroke="#000" stroke-width="0.12">scVI</text>
<circle cx="366.14" cy="115.40" r="1.45" fill="#000"/>
<circle cx="362.31" cy="118.47" r="1.45" fill="#000"/>
<circle cx="363.40" cy="121.97" r="1.45" fill="#000"/>
<circle cx="367.78" cy="121.64" r="1.45" fill="#000"/>
<circle cx="359.57" cy="128.21" r="1.45" fill="#000"/>
<circle cx="365.92" cy="127.45" r="1.45" fill="#000"/>
<circle cx="369.64" cy="129.31" r="1.45" fill="#000"/>
<circle cx="363.40" cy="139.82" r="1.45" fill="#000"/>
<circle cx="365.92" cy="147.15" r="1.45" fill="#000"/>
<circle cx="363.95" cy="153.39" r="1.45" fill="#000"/>
<circle cx="365.04" cy="161.39" r="1.45" fill="#000"/>
<circle cx="365.04" cy="132.70" r="2.8" fill="#f00" fill-opacity="0.92"/>
<circle cx="382.01" cy="126.68" r="1.45" fill="#000"/>
<circle cx="387.16" cy="124.16" r="1.45" fill="#000"/>
<circle cx="388.80" cy="127.45" r="1.45" fill="#000"/>
<circle cx="383.88" cy="133.69" r="1.45" fill="#000"/>
<circle cx="385.85" cy="134.23" r="1.45" fill="#000"/>
<circle cx="380.15" cy="141.46" r="1.45" fill="#000"/>
<circle cx="390.23" cy="141.46" r="1.45" fill="#000"/>
<circle cx="386.72" cy="146.61" r="1.45" fill="#000"/>
<circle cx="383.11" cy="153.72" r="1.45" fill="#000"/>
<circle cx="388.04" cy="158.87" r="1.45" fill="#000"/>
<circle cx="382.56" cy="159.96" r="1.45" fill="#000"/>
<circle cx="385.30" cy="161.93" r="1.45" fill="#000"/>
<circle cx="385.30" cy="142.55" r="2.8" fill="#f00" fill-opacity="0.92"/>
<circle cx="402.27" cy="127.45" r="1.45" fill="#000"/>
<circle cx="407.42" cy="123.94" r="1.45" fill="#000"/>
<circle cx="409.61" cy="127.45" r="1.45" fill="#000"/>
<circle cx="403.91" cy="133.14" r="1.45" fill="#000"/>
<circle cx="406.65" cy="134.01" r="1.45" fill="#000"/>
<circle cx="400.41" cy="140.36" r="1.45" fill="#000"/>
<circle cx="410.48" cy="140.58" r="1.45" fill="#000"/>
<circle cx="406.98" cy="146.61" r="1.45" fill="#000"/>
<circle cx="402.82" cy="153.72" r="1.45" fill="#000"/>
<circle cx="408.29" cy="155.91" r="1.45" fill="#000"/>
<circle cx="403.36" cy="160.29" r="1.45" fill="#000"/>
<circle cx="405.88" cy="161.93" r="1.45" fill="#000"/>
<circle cx="405.77" cy="142.45" r="2.8" fill="#f00" fill-opacity="0.92"/>
<circle cx="422.85" cy="122.34" r="1.45" fill="#000"/>
<circle cx="428.37" cy="121.82" r="1.45" fill="#000"/>
<circle cx="429.42" cy="125.10" r="1.45" fill="#000"/>
<circle cx="424.56" cy="129.31" r="1.45" fill="#000"/>
<circle cx="426.80" cy="131.54" r="1.45" fill="#000"/>
<circle cx="421.54" cy="134.56" r="1.45" fill="#000"/>
<circle cx="430.34" cy="135.88" r="1.45" fill="#000"/>
<circle cx="421.93" cy="142.45" r="1.45" fill="#000"/>
<circle cx="427.72" cy="142.18" r="1.45" fill="#000"/>
<circle cx="427.85" cy="151.91" r="1.45" fill="#000"/>
<circle cx="424.56" cy="155.19" r="1.45" fill="#000"/>
<circle cx="426.14" cy="160.84" r="1.45" fill="#000"/>
<circle cx="426.14" cy="137.85" r="2.8" fill="#f00" fill-opacity="0.92"/>
<circle cx="443.48" cy="124.45" r="1.45" fill="#000"/>
<circle cx="448.47" cy="123.00" r="1.45" fill="#000"/>
<circle cx="450.45" cy="127.60" r="1.45" fill="#000"/>
<circle cx="444.53" cy="132.33" r="1.45" fill="#000"/>
<circle cx="447.42" cy="132.99" r="1.45" fill="#000"/>
<circle cx="441.64" cy="138.90" r="1.45" fill="#000"/>
<circle cx="451.50" cy="139.82" r="1.45" fill="#000"/>
<circle cx="447.82" cy="145.73" r="1.45" fill="#000"/>
<circle cx="444.14" cy="152.56" r="1.45" fill="#000"/>
<circle cx="449.13" cy="155.45" r="1.45" fill="#000"/>
<circle cx="444.14" cy="159.13" r="1.45" fill="#000"/>
<circle cx="446.77" cy="161.50" r="1.45" fill="#000"/>
<circle cx="446.64" cy="141.53" r="2.8" fill="#f00" fill-opacity="0.92"/>
<circle cx="467.92" cy="110.52" r="1.45" fill="#000"/>
<circle cx="464.90" cy="114.85" r="1.45" fill="#000"/>
<circle cx="469.50" cy="115.51" r="1.45" fill="#000"/>
<circle cx="461.88" cy="122.08" r="1.45" fill="#000"/>
<circle cx="465.29" cy="121.42" r="1.45" fill="#000"/>
<circle cx="467.92" cy="121.42" r="1.45" fill="#000"/>
<circle cx="471.07" cy="125.63" r="1.45" fill="#000"/>
<circle cx="463.98" cy="131.28" r="1.45" fill="#000"/>
<circle cx="468.45" cy="131.28" r="1.45" fill="#000"/>
<circle cx="469.23" cy="133.64" r="1.45" fill="#000"/>
<circle cx="465.55" cy="138.50" r="1.45" fill="#000"/>
<circle cx="467.13" cy="139.82" r="1.45" fill="#000"/>
<circle cx="467.13" cy="125.36" r="2.8" fill="#f00" fill-opacity="0.92"/>
<circle cx="488.15" cy="113.15" r="1.45" fill="#000"/>
<circle cx="484.34" cy="119.19" r="1.45" fill="#000"/>
<circle cx="491.57" cy="120.11" r="1.45" fill="#000"/>
<circle cx="487.89" cy="120.77" r="1.45" fill="#000"/>
<circle cx="483.95" cy="124.97" r="1.45" fill="#000"/>
<circle cx="491.83" cy="126.28" r="1.45" fill="#000"/>
<circle cx="483.69" cy="128.91" r="1.45" fill="#000"/>
<circle cx="489.47" cy="128.91" r="1.45" fill="#000"/>
<circle cx="485.26" cy="132.99" r="1.45" fill="#000"/>
<circle cx="487.63" cy="133.91" r="1.45" fill="#000"/>
<circle cx="489.86" cy="131.93" r="1.45" fill="#000"/>
<circle cx="487.63" cy="125.10" r="2.8" fill="#f00" fill-opacity="0.92"/>
<text x="602.80" y="26.60" font-size="8.7" font-family="'Liberation Sans', Arial, sans-serif" font-weight="normal" text-anchor="middle" stroke="#000" stroke-width="0.12" >Var. explained by condition <tspan font-family="Noto Sans CJK JP, sans-serif" dx="-2.0" dy="0.6" stroke-width="0" fill="#333">↓</tspan></text>
<line x1="527.60" y1="32.30" x2="674.40" y2="32.30" stroke="#b3b3b3" stroke-width="1.0"/>
<line x1="527.60" y1="58.40" x2="674.40" y2="58.40" stroke="#b3b3b3" stroke-width="1.0"/>
<line x1="527.60" y1="84.30" x2="674.40" y2="84.30" stroke="#b3b3b3" stroke-width="1.0"/>
<line x1="527.60" y1="30.30" x2="527.60" y2="87.70" stroke="#6e6e6e" stroke-width="1.1"/>
<line x1="525.00" y1="32.30" x2="527.60" y2="32.30" stroke="#444" stroke-width="0.9"/>
<text x="522.30" y="35.30" font-size="8.5" font-family="'Liberation Sans', Arial, sans-serif" font-weight="normal" text-anchor="end" stroke="#000" stroke-width="0.12" >0.10</text>
<line x1="525.00" y1="58.40" x2="527.60" y2="58.40" stroke="#444" stroke-width="0.9"/>
<text x="522.30" y="61.40" font-size="8.5" font-family="'Liberation Sans', Arial, sans-serif" font-weight="normal" text-anchor="end" stroke="#000" stroke-width="0.12" >0.05</text>
<line x1="525.00" y1="84.30" x2="527.60" y2="84.30" stroke="#444" stroke-width="0.9"/>
<text x="522.30" y="87.30" font-size="8.5" font-family="'Liberation Sans', Arial, sans-serif" font-weight="normal" text-anchor="end" stroke="#000" stroke-width="0.12" >0.00</text>
<circle cx="540.59" cy="33.15" r="1.45" fill="#000"/>
<circle cx="537.64" cy="66.54" r="1.45" fill="#000"/>
<circle cx="538.40" cy="68.73" r="1.45" fill="#000"/>
<circle cx="542.23" cy="67.64" r="1.45" fill="#000"/>
<circle cx="535.45" cy="73.77" r="1.45" fill="#000"/>
<circle cx="538.40" cy="76.72" r="1.45" fill="#000"/>
<circle cx="541.69" cy="76.94" r="1.45" fill="#000"/>
<circle cx="544.42" cy="75.85" r="1.45" fill="#000"/>
<circle cx="535.66" cy="80.01" r="1.45" fill="#000"/>
<circle cx="537.64" cy="81.65" r="1.45" fill="#000"/>
<circle cx="542.45" cy="80.34" r="1.45" fill="#000"/>
<circle cx="539.82" cy="84.61" r="1.45" fill="#000"/>
<circle cx="540.04" cy="72.12" r="2.8" fill="#f00" fill-opacity="0.92"/>
<circle cx="576.18" cy="84.61" r="1.45" fill="#000"/>
<circle cx="578.91" cy="84.61" r="1.45" fill="#000"/>
<circle cx="582.20" cy="84.61" r="1.45" fill="#000"/>
<circle cx="584.39" cy="84.61" r="1.45" fill="#000"/>
<circle cx="580.55" cy="84.61" r="1.45" fill="#000"/>
<circle cx="580.77" cy="84.39" r="2.8" fill="#f00" fill-opacity="0.92"/>
<circle cx="601.53" cy="66.36" r="1.45" fill="#000"/>
<circle cx="600.48" cy="74.91" r="1.45" fill="#000"/>
<circle cx="601.80" cy="77.27" r="1.45" fill="#000"/>
<circle cx="596.54" cy="83.84" r="1.45" fill="#000"/>
<circle cx="598.51" cy="84.50" r="1.45" fill="#000"/>
<circle cx="600.48" cy="84.76" r="1.45" fill="#000"/>
<circle cx="602.45" cy="84.50" r="1.45" fill="#000"/>
<circle cx="604.42" cy="83.84" r="1.45" fill="#000"/>
<circle cx="599.56" cy="83.45" r="1.45" fill="#000"/>
<circle cx="603.50" cy="82.92" r="1.45" fill="#000"/>
<circle cx="601.14" cy="80.55" r="2.8" fill="#f00" fill-opacity="0.92"/>
<circle cx="617.17" cy="84.50" r="1.45" fill="#000"/>
<circle cx="619.53" cy="84.50" r="1.45" fill="#000"/>
<circle cx="623.47" cy="84.50" r="1.45" fill="#000"/>
<circle cx="625.84" cy="84.50" r="1.45" fill="#000"/>
<circle cx="621.77" cy="84.50" r="2.8" fill="#f00" fill-opacity="0.92"/>
<circle cx="637.27" cy="84.23" r="1.45" fill="#000"/>
<circle cx="639.90" cy="84.23" r="1.45" fill="#000"/>
<circle cx="644.50" cy="84.23" r="1.45" fill="#000"/>
<circle cx="646.86" cy="84.23" r="1.45" fill="#000"/>
<circle cx="642.13" cy="84.10" r="2.8" fill="#f00" fill-opacity="0.92"/>
<circle cx="663.15" cy="72.01" r="1.45" fill="#000"/>
<circle cx="657.24" cy="81.87" r="1.45" fill="#000"/>
<circle cx="659.61" cy="83.18" r="1.45" fill="#000"/>
<circle cx="662.23" cy="83.45" r="1.45" fill="#000"/>
<circle cx="664.86" cy="82.92" r="1.45" fill="#000"/>
<circle cx="666.83" cy="82.13" r="1.45" fill="#000"/>
<circle cx="662.36" cy="80.55" r="2.8" fill="#f00" fill-opacity="0.92"/>
<line x1="527.60" y1="108.40" x2="674.40" y2="108.40" stroke="#b3b3b3" stroke-width="1.0"/>
<line x1="527.60" y1="135.40" x2="674.40" y2="135.40" stroke="#b3b3b3" stroke-width="1.0"/>
<line x1="527.60" y1="161.90" x2="674.40" y2="161.90" stroke="#b3b3b3" stroke-width="1.0"/>
<line x1="527.60" y1="107.90" x2="527.60" y2="164.50" stroke="#6e6e6e" stroke-width="1.1"/>
<line x1="525.00" y1="108.40" x2="527.60" y2="108.40" stroke="#444" stroke-width="0.9"/>
<text x="522.30" y="111.40" font-size="8.5" font-family="'Liberation Sans', Arial, sans-serif" font-weight="normal" text-anchor="end" stroke="#000" stroke-width="0.12" >0.10</text>
<line x1="525.00" y1="135.40" x2="527.60" y2="135.40" stroke="#444" stroke-width="0.9"/>
<text x="522.30" y="138.40" font-size="8.5" font-family="'Liberation Sans', Arial, sans-serif" font-weight="normal" text-anchor="end" stroke="#000" stroke-width="0.12" >0.05</text>
<line x1="525.00" y1="161.90" x2="527.60" y2="161.90" stroke="#444" stroke-width="0.9"/>
<text x="522.30" y="164.90" font-size="8.5" font-family="'Liberation Sans', Arial, sans-serif" font-weight="normal" text-anchor="end" stroke="#000" stroke-width="0.12" >0.00</text>
<line x1="527.60" y1="164.50" x2="674.40" y2="164.50" stroke="#6e6e6e" stroke-width="1.1"/>
<line x1="539.83" y1="164.50" x2="539.83" y2="167.70" stroke="#5a5a5a" stroke-width="0.9"/>
<line x1="560.22" y1="164.50" x2="560.22" y2="167.70" stroke="#5a5a5a" stroke-width="0.9"/>
<line x1="580.61" y1="164.50" x2="580.61" y2="167.70" stroke="#5a5a5a" stroke-width="0.9"/>
<line x1="601.00" y1="164.50" x2="601.00" y2="167.70" stroke="#5a5a5a" stroke-width="0.9"/>
<line x1="621.39" y1="164.50" x2="621.39" y2="167.70" stroke="#5a5a5a" stroke-width="0.9"/>
<line x1="641.78" y1="164.50" x2="641.78" y2="167.70" stroke="#5a5a5a" stroke-width="0.9"/>
<line x1="662.17" y1="164.50" x2="662.17" y2="167.70" stroke="#5a5a5a" stroke-width="0.9"/>
<text transform="translate(542.93,169.90) rotate(-90)" font-size="8.7" font-family="'Liberation Sans', Arial, sans-serif" text-anchor="end" stroke="#000" stroke-width="0.12">PCA</text>
<text transform="translate(563.32,169.90) rotate(-90)" font-size="8.7" font-family="'Liberation Sans', Arial, sans-serif" text-anchor="end" stroke="#000" stroke-width="0.12">Harmony</text>
<text transform="translate(583.71,169.90) rotate(-90)" font-size="8.7" font-family="'Liberation Sans', Arial, sans-serif" text-anchor="end" stroke="#000" stroke-width="0.12">Param. Harmony</text>
<text transform="translate(604.10,169.90) rotate(-90)" font-size="8.7" font-family="'Liberation Sans', Arial, sans-serif" text-anchor="end" stroke="#000" stroke-width="0.12">multi-cond. PCA</text>
<text transform="translate(624.49,169.90) rotate(-90)" font-size="8.7" font-family="'Liberation Sans', Arial, sans-serif" text-anchor="end" stroke="#000" stroke-width="0.12">LEMUR</text>
<text transform="translate(644.88,169.90) rotate(-90)" font-size="8.7" font-family="'Liberation Sans', Arial, sans-serif" text-anchor="end" stroke="#000" stroke-width="0.12">CPA</text>
<text transform="translate(665.27,169.90) rotate(-90)" font-size="8.7" font-family="'Liberation Sans', Arial, sans-serif" text-anchor="end" stroke="#000" stroke-width="0.12">scVI</text>
<circle cx="540.37" cy="110.47" r="1.45" fill="#000"/>
<circle cx="538.40" cy="143.32" r="1.45" fill="#000"/>
<circle cx="539.17" cy="145.73" r="1.45" fill="#000"/>
<circle cx="542.01" cy="145.73" r="1.45" fill="#000"/>
<circle cx="535.88" cy="152.41" r="1.45" fill="#000"/>
<circle cx="538.40" cy="154.49" r="1.45" fill="#000"/>
<circle cx="544.20" cy="153.94" r="1.45" fill="#000"/>
<circle cx="535.45" cy="156.79" r="1.45" fill="#000"/>
<circle cx="537.85" cy="158.65" r="1.45" fill="#000"/>
<circle cx="541.14" cy="156.24" r="1.45" fill="#000"/>
<circle cx="542.78" cy="157.01" r="1.45" fill="#000"/>
<circle cx="539.82" cy="161.93" r="1.45" fill="#000"/>
<circle cx="539.82" cy="149.89" r="2.8" fill="#f00" fill-opacity="0.92"/>
<circle cx="555.92" cy="161.93" r="1.45" fill="#000"/>
<circle cx="558.11" cy="161.93" r="1.45" fill="#000"/>
<circle cx="561.94" cy="161.93" r="1.45" fill="#000"/>
<circle cx="564.13" cy="161.93" r="1.45" fill="#000"/>
<circle cx="560.30" cy="161.72" r="2.8" fill="#f00" fill-opacity="0.92"/>
<circle cx="576.18" cy="161.72" r="1.45" fill="#000"/>
<circle cx="578.58" cy="161.93" r="1.45" fill="#000"/>
<circle cx="582.74" cy="161.93" r="1.45" fill="#000"/>
<circle cx="584.72" cy="161.72" r="1.45" fill="#000"/>
<circle cx="580.55" cy="161.72" r="2.8" fill="#f00" fill-opacity="0.92"/>
<circle cx="601.53" cy="142.84" r="1.45" fill="#000"/>
<circle cx="600.48" cy="152.56" r="1.45" fill="#000"/>
<circle cx="602.72" cy="155.19" r="1.45" fill="#000"/>
<circle cx="596.54" cy="161.50" r="1.45" fill="#000"/>
<circle cx="598.51" cy="161.76" r="1.45" fill="#000"/>
<circle cx="600.48" cy="162.15" r="1.45" fill="#000"/>
<circle cx="602.72" cy="161.89" r="1.45" fill="#000"/>
<circle cx="604.82" cy="161.23" r="1.45" fill="#000"/>
<circle cx="599.56" cy="160.84" r="1.45" fill="#000"/>
<circle cx="603.50" cy="160.18" r="1.45" fill="#000"/>
<circle cx="601.14" cy="157.95" r="2.8" fill="#f00" fill-opacity="0.92"/>
<circle cx="617.17" cy="161.89" r="1.45" fill="#000"/>
<circle cx="619.53" cy="161.89" r="1.45" fill="#000"/>
<circle cx="623.74" cy="161.89" r="1.45" fill="#000"/>
<circle cx="625.84" cy="161.89" r="1.45" fill="#000"/>
<circle cx="621.77" cy="161.76" r="2.8" fill="#f00" fill-opacity="0.92"/>
<circle cx="637.27" cy="161.76" r="1.45" fill="#000"/>
<circle cx="639.90" cy="161.76" r="1.45" fill="#000"/>
<circle cx="644.23" cy="161.76" r="1.45" fill="#000"/>
<circle cx="646.47" cy="161.76" r="1.45" fill="#000"/>
<circle cx="642.13" cy="161.50" r="2.8" fill="#f00" fill-opacity="0.92"/>
<circle cx="663.15" cy="150.99" r="1.45" fill="#000"/>
<circle cx="657.64" cy="160.45" r="1.45" fill="#000"/>
<circle cx="660.00" cy="161.23" r="1.45" fill="#000"/>
<circle cx="664.86" cy="161.23" r="1.45" fill="#000"/>
<circle cx="666.83" cy="160.45" r="1.45" fill="#000"/>
<circle cx="662.50" cy="159.13" r="2.8" fill="#f00" fill-opacity="0.92"/>
<text x="681.00" y="59.40" font-size="8.5" font-family="'Liberation Sans', Arial, sans-serif" font-weight="normal" text-anchor="middle" stroke="#000" stroke-width="0.12" transform="rotate(90 681.0 59.4)" dominant-baseline="central">Holdout</text>
<text x="681.00" y="136.50" font-size="8.5" font-family="'Liberation Sans', Arial, sans-serif" font-weight="normal" text-anchor="middle" stroke="#000" stroke-width="0.12" transform="rotate(90 681.0 136.5)" dominant-baseline="central">Training</text>
<text transform="translate(14.4,255.7) scale(1,1.1)" font-size="11.67" font-family="'Liberation Sans', Arial, sans-serif" font-weight="bold">(B) Biological signal retention</text>
<text x="85.15" y="273.60" font-size="8.7" font-family="'Liberation Sans', Arial, sans-serif" font-weight="normal" text-anchor="middle" stroke="#000" stroke-width="0.12" ><tspan font-family="'Liberation Serif', 'DejaVu Serif', serif" font-style="italic">k</tspan><tspan dx="0.7">-NN</tspan> Overlap <tspan font-family="Noto Sans CJK JP, sans-serif" dx="-2.0" dy="2.0" stroke-width="0" fill="#333">↑</tspan></text>
<line x1="14.40" y1="277.50" x2="152.30" y2="277.50" stroke="#b3b3b3" stroke-width="1.0"/>
<line x1="14.40" y1="291.75" x2="152.30" y2="291.75" stroke="#b3b3b3" stroke-width="1.0"/>
<line x1="14.40" y1="306.00" x2="152.30" y2="306.00" stroke="#b3b3b3" stroke-width="1.0"/>
<line x1="14.40" y1="320.25" x2="152.30" y2="320.25" stroke="#b3b3b3" stroke-width="1.0"/>
<line x1="14.40" y1="334.50" x2="152.30" y2="334.50" stroke="#b3b3b3" stroke-width="1.0"/>
<line x1="14.40" y1="277.50" x2="14.40" y2="334.50" stroke="#6e6e6e" stroke-width="1.1"/>
<line x1="11.80" y1="277.50" x2="14.40" y2="277.50" stroke="#444" stroke-width="0.9"/>
<text x="9.10" y="280.50" font-size="8.5" font-family="'Liberation Sans', Arial, sans-serif" font-weight="normal" text-anchor="end" stroke="#000" stroke-width="0.12" >20</text>
<line x1="11.80" y1="291.75" x2="14.40" y2="291.75" stroke="#444" stroke-width="0.9"/>
<text x="9.10" y="294.75" font-size="8.5" font-family="'Liberation Sans', Arial, sans-serif" font-weight="normal" text-anchor="end" stroke="#000" stroke-width="0.12" >15</text>
<line x1="11.80" y1="306.00" x2="14.40" y2="306.00" stroke="#444" stroke-width="0.9"/>
<text x="9.10" y="309.00" font-size="8.5" font-family="'Liberation Sans', Arial, sans-serif" font-weight="normal" text-anchor="end" stroke="#000" stroke-width="0.12" >10</text>
<line x1="11.80" y1="320.25" x2="14.40" y2="320.25" stroke="#444" stroke-width="0.9"/>
<text x="9.10" y="323.25" font-size="8.5" font-family="'Liberation Sans', Arial, sans-serif" font-weight="normal" text-anchor="end" stroke="#000" stroke-width="0.12" >5</text>
<line x1="11.80" y1="334.50" x2="14.40" y2="334.50" stroke="#444" stroke-width="0.9"/>
<text x="9.10" y="337.50" font-size="8.5" font-family="'Liberation Sans', Arial, sans-serif" font-weight="normal" text-anchor="end" stroke="#000" stroke-width="0.12" >0</text>
<line x1="14.40" y1="334.50" x2="152.30" y2="334.50" stroke="#8c8c8c" stroke-width="1.0"/>
<clipPath id="c1"><rect x="12.40" y="277.50" width="141.90" height="57.50"/></clipPath><g clip-path="url(#c1)">
<circle cx="20.47" cy="278.02" r="1.45" fill="#000"/>
<circle cx="21.79" cy="278.02" r="1.45" fill="#000"/>
<circle cx="23.21" cy="278.02" r="1.45" fill="#000"/>
<circle cx="27.92" cy="278.02" r="1.45" fill="#000"/>
<circle cx="29.23" cy="278.02" r="1.45" fill="#000"/>
<circle cx="30.55" cy="278.02" r="1.45" fill="#000"/>
<circle cx="25.73" cy="278.24" r="2.8" fill="#f00" fill-opacity="0.92"/>
<circle cx="61.53" cy="287.33" r="1.45" fill="#000"/>
<circle cx="65.36" cy="286.78" r="1.45" fill="#000"/>
<circle cx="67.55" cy="287.88" r="1.45" fill="#000"/>
<circle cx="59.67" cy="289.52" r="1.45" fill="#000"/>
<circle cx="68.43" cy="291.49" r="1.45" fill="#000"/>
<circle cx="58.80" cy="290.39" r="1.45" fill="#000"/>
<circle cx="62.08" cy="297.73" r="1.45" fill="#000"/>
<circle cx="63.18" cy="299.37" r="1.45" fill="#000"/>
<circle cx="65.91" cy="298.82" r="1.45" fill="#000"/>
<circle cx="64.27" cy="301.01" r="1.45" fill="#000"/>
<circle cx="62.96" cy="300.25" r="1.45" fill="#000"/>
<circle cx="64.49" cy="292.80" r="2.8" fill="#f00" fill-opacity="0.92"/>
<circle cx="80.69" cy="287.88" r="1.45" fill="#000"/>
<circle cx="85.03" cy="287.14" r="1.45" fill="#000"/>
<circle cx="85.90" cy="288.75" r="1.45" fill="#000"/>
<circle cx="78.82" cy="293.72" r="1.45" fill="#000"/>
<circle cx="88.13" cy="294.58" r="1.45" fill="#000"/>
<circle cx="79.69" cy="296.82" r="1.45" fill="#000"/>
<circle cx="82.18" cy="298.68" r="1.45" fill="#000"/>
<circle cx="85.90" cy="298.06" r="1.45" fill="#000"/>
<circle cx="83.79" cy="306.12" r="1.45" fill="#000"/>
<circle cx="83.79" cy="294.34" r="2.8" fill="#f00" fill-opacity="0.92"/>
<circle cx="101.78" cy="290.36" r="1.45" fill="#000"/>
<circle cx="103.64" cy="289.12" r="1.45" fill="#000"/>
<circle cx="104.51" cy="293.09" r="1.45" fill="#000"/>
<circle cx="97.81" cy="295.33" r="1.45" fill="#000"/>
<circle cx="107.36" cy="295.82" r="1.45" fill="#000"/>
<circle cx="101.53" cy="301.16" r="1.45" fill="#000"/>
<circle cx="102.40" cy="304.01" r="1.45" fill="#000"/>
<circle cx="104.51" cy="303.64" r="1.45" fill="#000"/>
<circle cx="103.02" cy="307.99" r="1.45" fill="#000"/>
<circle cx="100.54" cy="296.20" r="1.45" fill="#000"/>
<circle cx="102.77" cy="297.44" r="2.8" fill="#f00" fill-opacity="0.92"/>
<circle cx="122.88" cy="303.02" r="1.45" fill="#000"/>
<circle cx="120.39" cy="305.26" r="1.45" fill="#000"/>
<circle cx="124.12" cy="306.99" r="1.45" fill="#000"/>
<circle cx="117.29" cy="310.22" r="1.45" fill="#000"/>
<circle cx="126.35" cy="310.72" r="1.45" fill="#000"/>
<circle cx="118.16" cy="318.53" r="1.45" fill="#000"/>
<circle cx="120.39" cy="319.53" r="1.45" fill="#000"/>
<circle cx="122.26" cy="320.15" r="1.45" fill="#000"/>
<circle cx="125.11" cy="319.15" r="1.45" fill="#000"/>
<circle cx="121.01" cy="315.43" r="1.45" fill="#000"/>
<circle cx="122.26" cy="312.70" r="2.8" fill="#f00" fill-opacity="0.92"/>
<circle cx="139.63" cy="300.79" r="1.45" fill="#000"/>
<circle cx="142.73" cy="300.29" r="1.45" fill="#000"/>
<circle cx="142.98" cy="301.78" r="1.45" fill="#000"/>
<circle cx="136.28" cy="305.50" r="1.45" fill="#000"/>
<circle cx="145.58" cy="306.12" r="1.45" fill="#000"/>
<circle cx="140.87" cy="312.70" r="1.45" fill="#000"/>
<circle cx="141.49" cy="318.91" r="1.45" fill="#000"/>
<circle cx="141.74" cy="310.47" r="1.45" fill="#000"/>
<circle cx="141.12" cy="306.99" r="2.8" fill="#f00" fill-opacity="0.92"/>
</g>
<line x1="14.40" y1="355.00" x2="152.30" y2="355.00" stroke="#b3b3b3" stroke-width="1.0"/>
<line x1="14.40" y1="369.07" x2="152.30" y2="369.07" stroke="#b3b3b3" stroke-width="1.0"/>
<line x1="14.40" y1="383.15" x2="152.30" y2="383.15" stroke="#b3b3b3" stroke-width="1.0"/>
<line x1="14.40" y1="397.23" x2="152.30" y2="397.23" stroke="#b3b3b3" stroke-width="1.0"/>
<line x1="14.40" y1="411.30" x2="152.30" y2="411.30" stroke="#b3b3b3" stroke-width="1.0"/>
<line x1="14.40" y1="355.00" x2="14.40" y2="411.30" stroke="#6e6e6e" stroke-width="1.1"/>
<line x1="11.80" y1="355.00" x2="14.40" y2="355.00" stroke="#444" stroke-width="0.9"/>
<text x="9.10" y="358.00" font-size="8.5" font-family="'Liberation Sans', Arial, sans-serif" font-weight="normal" text-anchor="end" stroke="#000" stroke-width="0.12" >20</text>
<line x1="11.80" y1="369.07" x2="14.40" y2="369.07" stroke="#444" stroke-width="0.9"/>
<text x="9.10" y="372.07" font-size="8.5" font-family="'Liberation Sans', Arial, sans-serif" font-weight="normal" text-anchor="end" stroke="#000" stroke-width="0.12" >15</text>
<line x1="11.80" y1="383.15" x2="14.40" y2="383.15" stroke="#444" stroke-width="0.9"/>
<text x="9.10" y="386.15" font-size="8.5" font-family="'Liberation Sans', Arial, sans-serif" font-weight="normal" text-anchor="end" stroke="#000" stroke-width="0.12" >10</text>
<line x1="11.80" y1="397.23" x2="14.40" y2="397.23" stroke="#444" stroke-width="0.9"/>
<text x="9.10" y="400.23" font-size="8.5" font-family="'Liberation Sans', Arial, sans-serif" font-weight="normal" text-anchor="end" stroke="#000" stroke-width="0.12" >5</text>
<line x1="11.80" y1="411.30" x2="14.40" y2="411.30" stroke="#444" stroke-width="0.9"/>
<text x="9.10" y="414.30" font-size="8.5" font-family="'Liberation Sans', Arial, sans-serif" font-weight="normal" text-anchor="end" stroke="#000" stroke-width="0.12" >0</text>
<line x1="14.40" y1="411.30" x2="152.30" y2="411.30" stroke="#6e6e6e" stroke-width="1.1"/>
<line x1="25.89" y1="411.30" x2="25.89" y2="414.50" stroke="#5a5a5a" stroke-width="0.9"/>
<line x1="45.04" y1="411.30" x2="45.04" y2="414.50" stroke="#5a5a5a" stroke-width="0.9"/>
<line x1="64.20" y1="411.30" x2="64.20" y2="414.50" stroke="#5a5a5a" stroke-width="0.9"/>
<line x1="83.35" y1="411.30" x2="83.35" y2="414.50" stroke="#5a5a5a" stroke-width="0.9"/>
<line x1="102.50" y1="411.30" x2="102.50" y2="414.50" stroke="#5a5a5a" stroke-width="0.9"/>
<line x1="121.66" y1="411.30" x2="121.66" y2="414.50" stroke="#5a5a5a" stroke-width="0.9"/>
<line x1="140.81" y1="411.30" x2="140.81" y2="414.50" stroke="#5a5a5a" stroke-width="0.9"/>
<text transform="translate(28.99,416.70) rotate(-90)" font-size="8.7" font-family="'Liberation Sans', Arial, sans-serif" text-anchor="end" stroke="#000" stroke-width="0.12">PCA</text>
<text transform="translate(48.14,416.70) rotate(-90)" font-size="8.7" font-family="'Liberation Sans', Arial, sans-serif" text-anchor="end" stroke="#000" stroke-width="0.12">Harmony</text>
<text transform="translate(67.30,416.70) rotate(-90)" font-size="8.7" font-family="'Liberation Sans', Arial, sans-serif" text-anchor="end" stroke="#000" stroke-width="0.12">Param. Harmony</text>
<text transform="translate(86.45,416.70) rotate(-90)" font-size="8.7" font-family="'Liberation Sans', Arial, sans-serif" text-anchor="end" stroke="#000" stroke-width="0.12">multi-cond. PCA</text>
<text transform="translate(105.60,416.70) rotate(-90)" font-size="8.7" font-family="'Liberation Sans', Arial, sans-serif" text-anchor="end" stroke="#000" stroke-width="0.12">LEMUR</text>
<text transform="translate(124.76,416.70) rotate(-90)" font-size="8.7" font-family="'Liberation Sans', Arial, sans-serif" text-anchor="end" stroke="#000" stroke-width="0.12">CPA</text>
<text transform="translate(143.91,416.70) rotate(-90)" font-size="8.7" font-family="'Liberation Sans', Arial, sans-serif" text-anchor="end" stroke="#000" stroke-width="0.12">scVI</text>
<clipPath id="c2"><rect x="12.40" y="355.00" width="141.90" height="56.80"/></clipPath><g clip-path="url(#c2)">
<circle cx="20.47" cy="355.26" r="1.45" fill="#000"/>
<circle cx="21.79" cy="355.26" r="1.45" fill="#000"/>
<circle cx="23.21" cy="355.26" r="1.45" fill="#000"/>
<circle cx="27.92" cy="355.26" r="1.45" fill="#000"/>
<circle cx="29.23" cy="355.26" r="1.45" fill="#000"/>
<circle cx="30.55" cy="355.26" r="1.45" fill="#000"/>
<circle cx="25.73" cy="355.69" r="2.8" fill="#f00" fill-opacity="0.92"/>
<circle cx="41.82" cy="358.21" r="1.45" fill="#000"/>
<circle cx="43.69" cy="357.88" r="1.45" fill="#000"/>
<circle cx="47.30" cy="357.88" r="1.45" fill="#000"/>
<circle cx="49.16" cy="358.54" r="1.45" fill="#000"/>
<circle cx="41.06" cy="360.73" r="1.45" fill="#000"/>
<circle cx="47.85" cy="360.40" r="1.45" fill="#000"/>
<circle cx="42.59" cy="364.01" r="1.45" fill="#000"/>
<circle cx="46.53" cy="364.23" r="1.45" fill="#000"/>
<circle cx="44.34" cy="366.97" r="1.45" fill="#000"/>
<circle cx="45.11" cy="368.07" r="1.45" fill="#000"/>
<circle cx="41.82" cy="361.50" r="1.45" fill="#000"/>
<circle cx="45.22" cy="362.04" r="2.8" fill="#f00" fill-opacity="0.92"/>
<circle cx="59.89" cy="359.64" r="1.45" fill="#000"/>
<circle cx="61.53" cy="358.76" r="1.45" fill="#000"/>
<circle cx="66.46" cy="358.54" r="1.45" fill="#000"/>
<circle cx="68.43" cy="360.07" r="1.45" fill="#000"/>
<circle cx="59.01" cy="360.40" r="1.45" fill="#000"/>
<circle cx="68.65" cy="361.82" r="1.45" fill="#000"/>
<circle cx="62.30" cy="364.01" r="1.45" fill="#000"/>
<circle cx="66.46" cy="364.78" r="1.45" fill="#000"/>
<circle cx="64.05" cy="367.52" r="1.45" fill="#000"/>
<circle cx="64.82" cy="368.07" r="1.45" fill="#000"/>
<circle cx="64.49" cy="362.26" r="2.8" fill="#f00" fill-opacity="0.92"/>
<circle cx="81.31" cy="363.40" r="1.45" fill="#000"/>
<circle cx="84.41" cy="361.42" r="1.45" fill="#000"/>
<circle cx="86.27" cy="363.40" r="1.45" fill="#000"/>
<circle cx="78.45" cy="367.99" r="1.45" fill="#000"/>
<circle cx="88.13" cy="368.36" r="1.45" fill="#000"/>
<circle cx="81.93" cy="372.96" r="1.45" fill="#000"/>
<circle cx="85.03" cy="372.96" r="1.45" fill="#000"/>
<circle cx="83.79" cy="379.78" r="1.45" fill="#000"/>
<circle cx="83.79" cy="368.61" r="2.8" fill="#f00" fill-opacity="0.92"/>
<circle cx="103.27" cy="362.16" r="1.45" fill="#000"/>
<circle cx="101.78" cy="364.64" r="1.45" fill="#000"/>
<circle cx="104.88" cy="366.13" r="1.45" fill="#000"/>
<circle cx="97.81" cy="368.36" r="1.45" fill="#000"/>
<circle cx="106.99" cy="368.86" r="1.45" fill="#000"/>
<circle cx="100.54" cy="373.33" r="1.45" fill="#000"/>
<circle cx="104.51" cy="373.58" r="1.45" fill="#000"/>
<circle cx="103.02" cy="379.53" r="1.45" fill="#000"/>
<circle cx="102.77" cy="369.23" r="2.8" fill="#f00" fill-opacity="0.92"/>
<circle cx="122.63" cy="378.29" r="1.45" fill="#000"/>
<circle cx="120.39" cy="381.64" r="1.45" fill="#000"/>
<circle cx="124.12" cy="382.26" r="1.45" fill="#000"/>
<circle cx="118.16" cy="386.98" r="1.45" fill="#000"/>
<circle cx="125.36" cy="387.85" r="1.45" fill="#000"/>
<circle cx="117.91" cy="393.43" r="1.45" fill="#000"/>
<circle cx="119.77" cy="395.29" r="1.45" fill="#000"/>
<circle cx="124.74" cy="394.05" r="1.45" fill="#000"/>
<circle cx="121.88" cy="397.15" r="1.45" fill="#000"/>
<circle cx="123.12" cy="392.81" r="1.45" fill="#000"/>
<circle cx="122.26" cy="388.72" r="2.8" fill="#f00" fill-opacity="0.92"/>
<circle cx="139.63" cy="377.55" r="1.45" fill="#000"/>
<circle cx="142.48" cy="376.31" r="1.45" fill="#000"/>
<circle cx="143.35" cy="379.16" r="1.45" fill="#000"/>
<circle cx="136.77" cy="381.02" r="1.45" fill="#000"/>
<circle cx="145.21" cy="383.75" r="1.45" fill="#000"/>
<circle cx="137.52" cy="385.74" r="1.45" fill="#000"/>
<circle cx="140.87" cy="390.33" r="1.45" fill="#000"/>
<circle cx="141.49" cy="396.53" r="1.45" fill="#000"/>
<circle cx="141.12" cy="383.26" r="2.8" fill="#f00" fill-opacity="0.92"/>
</g>
<text x="258.10" y="273.60" font-size="8.7" font-family="'Liberation Sans', Arial, sans-serif" font-weight="normal" text-anchor="middle" stroke="#000" stroke-width="0.12" >ARI <tspan font-family="Noto Sans CJK JP, sans-serif" dx="-2.0" dy="2.0" stroke-width="0" fill="#333">↑</tspan></text>
<line x1="181.70" y1="277.50" x2="330.90" y2="277.50" stroke="#b3b3b3" stroke-width="1.0"/>
<line x1="181.70" y1="306.00" x2="330.90" y2="306.00" stroke="#b3b3b3" stroke-width="1.0"/>
<line x1="181.70" y1="334.50" x2="330.90" y2="334.50" stroke="#b3b3b3" stroke-width="1.0"/>
<line x1="181.70" y1="277.50" x2="181.70" y2="334.50" stroke="#6e6e6e" stroke-width="1.1"/>
<line x1="179.10" y1="277.50" x2="181.70" y2="277.50" stroke="#444" stroke-width="0.9"/>
<text x="176.40" y="280.50" font-size="8.5" font-family="'Liberation Sans', Arial, sans-serif" font-weight="normal" text-anchor="end" stroke="#000" stroke-width="0.12" >1.0</text>
<line x1="179.10" y1="306.00" x2="181.70" y2="306.00" stroke="#444" stroke-width="0.9"/>
<text x="176.40" y="309.00" font-size="8.5" font-family="'Liberation Sans', Arial, sans-serif" font-weight="normal" text-anchor="end" stroke="#000" stroke-width="0.12" >0.5</text>
<line x1="179.10" y1="334.50" x2="181.70" y2="334.50" stroke="#444" stroke-width="0.9"/>
<text x="176.40" y="337.50" font-size="8.5" font-family="'Liberation Sans', Arial, sans-serif" font-weight="normal" text-anchor="end" stroke="#000" stroke-width="0.12" >0.0</text>
<line x1="181.70" y1="334.50" x2="330.90" y2="334.50" stroke="#8c8c8c" stroke-width="1.0"/>
<clipPath id="c3"><rect x="179.70" y="277.50" width="153.20" height="57.50"/></clipPath><g clip-path="url(#c3)">
<circle cx="188.57" cy="278.02" r="1.45" fill="#000"/>
<circle cx="190.21" cy="278.02" r="1.45" fill="#000"/>
<circle cx="191.85" cy="278.02" r="1.45" fill="#000"/>
<circle cx="196.23" cy="278.02" r="1.45" fill="#000"/>
<circle cx="197.88" cy="278.02" r="1.45" fill="#000"/>
<circle cx="198.97" cy="278.02" r="1.45" fill="#000"/>
<circle cx="194.04" cy="278.24" r="2.8" fill="#f00" fill-opacity="0.92"/>
<circle cx="233.24" cy="280.76" r="1.45" fill="#000"/>
<circle cx="236.74" cy="280.54" r="1.45" fill="#000"/>
<circle cx="237.84" cy="284.59" r="1.45" fill="#000"/>
<circle cx="233.46" cy="286.01" r="1.45" fill="#000"/>
<circle cx="235.65" cy="287.11" r="1.45" fill="#000"/>
<circle cx="231.49" cy="290.61" r="1.45" fill="#000"/>
<circle cx="239.81" cy="291.49" r="1.45" fill="#000"/>
<circle cx="231.82" cy="294.77" r="1.45" fill="#000"/>
<circle cx="236.53" cy="303.75" r="1.45" fill="#000"/>
<circle cx="234.01" cy="310.10" r="1.45" fill="#000"/>
<circle cx="235.65" cy="310.87" r="1.45" fill="#000"/>
<circle cx="235.54" cy="293.02" r="2.8" fill="#f00" fill-opacity="0.92"/>
<circle cx="256.82" cy="278.83" r="1.45" fill="#000"/>
<circle cx="254.72" cy="281.20" r="1.45" fill="#000"/>
<circle cx="254.72" cy="286.72" r="1.45" fill="#000"/>
<circle cx="258.39" cy="285.80" r="1.45" fill="#000"/>
<circle cx="250.77" cy="291.05" r="1.45" fill="#000"/>
<circle cx="260.76" cy="291.05" r="1.45" fill="#000"/>
<circle cx="254.19" cy="298.93" r="1.45" fill="#000"/>
<circle cx="257.34" cy="299.59" r="1.45" fill="#000"/>
<circle cx="255.50" cy="304.58" r="1.45" fill="#000"/>
<circle cx="256.16" cy="310.50" r="1.45" fill="#000"/>
<circle cx="256.16" cy="292.36" r="2.8" fill="#f00" fill-opacity="0.92"/>
<circle cx="274.82" cy="279.62" r="1.45" fill="#000"/>
<circle cx="278.10" cy="279.23" r="1.45" fill="#000"/>
<circle cx="279.15" cy="284.48" r="1.45" fill="#000"/>
<circle cx="275.47" cy="286.19" r="1.45" fill="#000"/>
<circle cx="277.84" cy="288.03" r="1.45" fill="#000"/>
<circle cx="273.11" cy="291.71" r="1.45" fill="#000"/>
<circle cx="281.39" cy="293.02" r="1.45" fill="#000"/>
<circle cx="272.85" cy="296.31" r="1.45" fill="#000"/>
<circle cx="277.84" cy="303.14" r="1.45" fill="#000"/>
<circle cx="275.21" cy="313.12" r="1.45" fill="#000"/>
<circle cx="277.05" cy="314.70" r="1.45" fill="#000"/>
<circle cx="277.05" cy="294.07" r="2.8" fill="#f00" fill-opacity="0.92"/>
<circle cx="293.87" cy="286.45" r="1.45" fill="#000"/>
<circle cx="299.78" cy="285.80" r="1.45" fill="#000"/>
<circle cx="301.49" cy="287.50" r="1.45" fill="#000"/>
<circle cx="295.18" cy="291.45" r="1.45" fill="#000"/>
<circle cx="298.47" cy="293.02" r="1.45" fill="#000"/>
<circle cx="293.47" cy="294.60" r="1.45" fill="#000"/>
<circle cx="296.50" cy="306.42" r="1.45" fill="#000"/>
<circle cx="301.49" cy="305.90" r="1.45" fill="#000"/>
<circle cx="299.12" cy="307.74" r="1.45" fill="#000"/>
<circle cx="294.26" cy="311.15" r="1.45" fill="#000"/>
<circle cx="300.18" cy="315.75" r="1.45" fill="#000"/>
<circle cx="295.18" cy="318.25" r="1.45" fill="#000"/>
<circle cx="297.42" cy="318.38" r="1.45" fill="#000"/>
<circle cx="297.81" cy="301.96" r="2.8" fill="#f00" fill-opacity="0.92"/>
<circle cx="319.23" cy="280.93" r="1.45" fill="#000"/>
<circle cx="316.86" cy="284.09" r="1.45" fill="#000"/>
<circle cx="317.52" cy="288.82" r="1.45" fill="#000"/>
<circle cx="320.15" cy="288.82" r="1.45" fill="#000"/>
<circle cx="313.58" cy="300.64" r="1.45" fill="#000"/>
<circle cx="323.04" cy="302.48" r="1.45" fill="#000"/>
<circle cx="314.23" cy="304.58" r="1.45" fill="#000"/>
<circle cx="319.88" cy="304.85" r="1.45" fill="#000"/>
<circle cx="320.80" cy="306.42" r="1.45" fill="#000"/>
<circle cx="317.52" cy="320.88" r="1.45" fill="#000"/>
<circle cx="318.57" cy="321.66" r="1.45" fill="#000"/>
<circle cx="318.31" cy="300.38" r="2.8" fill="#f00" fill-opacity="0.92"/>
</g>
<line x1="181.70" y1="355.00" x2="330.90" y2="355.00" stroke="#b3b3b3" stroke-width="1.0"/>
<line x1="181.70" y1="383.15" x2="330.90" y2="383.15" stroke="#b3b3b3" stroke-width="1.0"/>
<line x1="181.70" y1="411.30" x2="330.90" y2="411.30" stroke="#b3b3b3" stroke-width="1.0"/>
<line x1="181.70" y1="355.00" x2="181.70" y2="411.30" stroke="#6e6e6e" stroke-width="1.1"/>
<line x1="179.10" y1="355.00" x2="181.70" y2="355.00" stroke="#444" stroke-width="0.9"/>
<text x="176.40" y="358.00" font-size="8.5" font-family="'Liberation Sans', Arial, sans-serif" font-weight="normal" text-anchor="end" stroke="#000" stroke-width="0.12" >1.0</text>
<line x1="179.10" y1="383.15" x2="181.70" y2="383.15" stroke="#444" stroke-width="0.9"/>
<text x="176.40" y="386.15" font-size="8.5" font-family="'Liberation Sans', Arial, sans-serif" font-weight="normal" text-anchor="end" stroke="#000" stroke-width="0.12" >0.5</text>
<line x1="179.10" y1="411.30" x2="181.70" y2="411.30" stroke="#444" stroke-width="0.9"/>
<text x="176.40" y="414.30" font-size="8.5" font-family="'Liberation Sans', Arial, sans-serif" font-weight="normal" text-anchor="end" stroke="#000" stroke-width="0.12" >0.0</text>
<line x1="181.70" y1="411.30" x2="330.90" y2="411.30" stroke="#6e6e6e" stroke-width="1.1"/>
<line x1="194.13" y1="411.30" x2="194.13" y2="414.50" stroke="#5a5a5a" stroke-width="0.9"/>
<line x1="214.86" y1="411.30" x2="214.86" y2="414.50" stroke="#5a5a5a" stroke-width="0.9"/>
<line x1="235.58" y1="411.30" x2="235.58" y2="414.50" stroke="#5a5a5a" stroke-width="0.9"/>
<line x1="256.30" y1="411.30" x2="256.30" y2="414.50" stroke="#5a5a5a" stroke-width="0.9"/>
<line x1="277.02" y1="411.30" x2="277.02" y2="414.50" stroke="#5a5a5a" stroke-width="0.9"/>
<line x1="297.74" y1="411.30" x2="297.74" y2="414.50" stroke="#5a5a5a" stroke-width="0.9"/>
<line x1="318.47" y1="411.30" x2="318.47" y2="414.50" stroke="#5a5a5a" stroke-width="0.9"/>
<text transform="translate(197.23,416.70) rotate(-90)" font-size="8.7" font-family="'Liberation Sans', Arial, sans-serif" text-anchor="end" stroke="#000" stroke-width="0.12">PCA</text>
<text transform="translate(217.96,416.70) rotate(-90)" font-size="8.7" font-family="'Liberation Sans', Arial, sans-serif" text-anchor="end" stroke="#000" stroke-width="0.12">Harmony</text>
<text transform="translate(238.68,416.70) rotate(-90)" font-size="8.7" font-family="'Liberation Sans', Arial, sans-serif" text-anchor="end" stroke="#000" stroke-width="0.12">Param. Harmony</text>
<text transform="translate(259.40,416.70) rotate(-90)" font-size="8.7" font-family="'Liberation Sans', Arial, sans-serif" text-anchor="end" stroke="#000" stroke-width="0.12">multi-cond. PCA</text>
<text transform="translate(280.12,416.70) rotate(-90)" font-size="8.7" font-family="'Liberation Sans', Arial, sans-serif" text-anchor="end" stroke="#000" stroke-width="0.12">LEMUR</text>
<text transform="translate(300.84,416.70) rotate(-90)" font-size="8.7" font-family="'Liberation Sans', Arial, sans-serif" text-anchor="end" stroke="#000" stroke-width="0.12">CPA</text>
<text transform="translate(321.57,416.70) rotate(-90)" font-size="8.7" font-family="'Liberation Sans', Arial, sans-serif" text-anchor="end" stroke="#000" stroke-width="0.12">scVI</text>
<clipPath id="c4"><rect x="179.70" y="355.00" width="153.20" height="56.80"/></clipPath><g clip-path="url(#c4)">
<circle cx="188.02" cy="355.26" r="1.45" fill="#000"/>
<circle cx="189.66" cy="355.26" r="1.45" fill="#000"/>
<circle cx="191.31" cy="355.26" r="1.45" fill="#000"/>
<circle cx="196.78" cy="355.26" r="1.45" fill="#000"/>
<circle cx="198.42" cy="355.26" r="1.45" fill="#000"/>
<circle cx="199.52" cy="355.26" r="1.45" fill="#000"/>
<circle cx="194.04" cy="355.69" r="2.8" fill="#f00" fill-opacity="0.92"/>
<circle cx="211.56" cy="358.54" r="1.45" fill="#000"/>
<circle cx="216.27" cy="356.79" r="1.45" fill="#000"/>
<circle cx="218.68" cy="361.17" r="1.45" fill="#000"/>
<circle cx="212.66" cy="362.92" r="1.45" fill="#000"/>
<circle cx="210.25" cy="364.45" r="1.45" fill="#000"/>
<circle cx="215.39" cy="364.01" r="1.45" fill="#000"/>
<circle cx="217.91" cy="376.28" r="1.45" fill="#000"/>
<circle cx="213.75" cy="378.25" r="1.45" fill="#000"/>
<circle cx="216.16" cy="378.69" r="1.45" fill="#000"/>
<circle cx="211.56" cy="381.53" r="1.45" fill="#000"/>
<circle cx="216.49" cy="386.35" r="1.45" fill="#000"/>
<circle cx="212.88" cy="389.96" r="1.45" fill="#000"/>
<circle cx="214.63" cy="391.06" r="1.45" fill="#000"/>
<circle cx="214.85" cy="372.99" r="2.8" fill="#f00" fill-opacity="0.92"/>
<circle cx="236.20" cy="356.35" r="1.45" fill="#000"/>
<circle cx="234.34" cy="360.40" r="1.45" fill="#000"/>
<circle cx="237.62" cy="366.20" r="1.45" fill="#000"/>
<circle cx="234.01" cy="367.74" r="1.45" fill="#000"/>
<circle cx="230.18" cy="372.77" r="1.45" fill="#000"/>
<circle cx="240.25" cy="373.54" r="1.45" fill="#000"/>
<circle cx="236.20" cy="371.02" r="1.45" fill="#000"/>
<circle cx="237.29" cy="376.28" r="1.45" fill="#000"/>
<circle cx="232.58" cy="380.44" r="1.45" fill="#000"/>
<circle cx="237.29" cy="381.20" r="1.45" fill="#000"/>
<circle cx="233.46" cy="388.10" r="1.45" fill="#000"/>
<circle cx="235.65" cy="388.54" r="1.45" fill="#000"/>
<circle cx="235.54" cy="373.54" r="2.8" fill="#f00" fill-opacity="0.92"/>
<circle cx="257.34" cy="358.15" r="1.45" fill="#000"/>
<circle cx="253.40" cy="361.17" r="1.45" fill="#000"/>
<circle cx="259.71" cy="362.74" r="1.45" fill="#000"/>
<circle cx="254.19" cy="365.11" r="1.45" fill="#000"/>
<circle cx="256.82" cy="366.42" r="1.45" fill="#000"/>
<circle cx="252.09" cy="368.39" r="1.45" fill="#000"/>
<circle cx="259.45" cy="371.28" r="1.45" fill="#000"/>
<circle cx="251.82" cy="382.58" r="1.45" fill="#000"/>
<circle cx="253.14" cy="385.21" r="1.45" fill="#000"/>
<circle cx="257.74" cy="382.58" r="1.45" fill="#000"/>
<circle cx="259.45" cy="383.90" r="1.45" fill="#000"/>
<circle cx="256.16" cy="388.10" r="1.45" fill="#000"/>
<circle cx="256.16" cy="372.99" r="2.8" fill="#f00" fill-opacity="0.92"/>
<circle cx="274.16" cy="360.25" r="1.45" fill="#000"/>
<circle cx="278.36" cy="358.54" r="1.45" fill="#000"/>
<circle cx="279.42" cy="362.48" r="1.45" fill="#000"/>
<circle cx="275.21" cy="367.34" r="1.45" fill="#000"/>
<circle cx="277.45" cy="369.05" r="1.45" fill="#000"/>
<circle cx="271.53" cy="371.28" r="1.45" fill="#000"/>
<circle cx="281.78" cy="374.04" r="1.45" fill="#000"/>
<circle cx="278.36" cy="376.93" r="1.45" fill="#000"/>
<circle cx="273.90" cy="380.88" r="1.45" fill="#000"/>
<circle cx="278.76" cy="382.19" r="1.45" fill="#000"/>
<circle cx="275.21" cy="387.18" r="1.45" fill="#000"/>
<circle cx="276.79" cy="388.76" r="1.45" fill="#000"/>
<circle cx="277.05" cy="373.39" r="2.8" fill="#f00" fill-opacity="0.92"/>
<circle cx="295.45" cy="362.48" r="1.45" fill="#000"/>
<circle cx="298.86" cy="361.17" r="1.45" fill="#000"/>
<circle cx="293.21" cy="374.31" r="1.45" fill="#000"/>
<circle cx="295.18" cy="372.07" r="1.45" fill="#000"/>
<circle cx="298.47" cy="371.68" r="1.45" fill="#000"/>
<circle cx="300.70" cy="371.02" r="1.45" fill="#000"/>
<circle cx="301.09" cy="376.28" r="1.45" fill="#000"/>
<circle cx="294.53" cy="380.88" r="1.45" fill="#000"/>
<circle cx="298.47" cy="392.31" r="1.45" fill="#000"/>
<circle cx="296.50" cy="397.56" r="1.45" fill="#000"/>
<circle cx="297.55" cy="401.24" r="1.45" fill="#000"/>
<circle cx="297.81" cy="378.25" r="2.8" fill="#f00" fill-opacity="0.92"/>
<circle cx="319.23" cy="358.15" r="1.45" fill="#000"/>
<circle cx="316.20" cy="362.48" r="1.45" fill="#000"/>
<circle cx="320.80" cy="365.50" r="1.45" fill="#000"/>
<circle cx="316.86" cy="367.34" r="1.45" fill="#000"/>
<circle cx="318.83" cy="371.02" r="1.45" fill="#000"/>
<circle cx="312.92" cy="372.73" r="1.45" fill="#000"/>
<circle cx="323.04" cy="373.65" r="1.45" fill="#000"/>
<circle cx="315.15" cy="380.48" r="1.45" fill="#000"/>
<circle cx="319.88" cy="379.17" r="1.45" fill="#000"/>
<circle cx="319.23" cy="389.68" r="1.45" fill="#000"/>
<circle cx="316.20" cy="396.64" r="1.45" fill="#000"/>
<circle cx="318.57" cy="397.56" r="1.45" fill="#000"/>
<circle cx="318.44" cy="376.28" r="2.8" fill="#f00" fill-opacity="0.92"/>
</g>
<text x="429.15" y="273.60" font-size="8.7" font-family="'Liberation Sans', Arial, sans-serif" font-weight="normal" text-anchor="middle" stroke="#000" stroke-width="0.12" >NMI <tspan font-family="Noto Sans CJK JP, sans-serif" dx="-2.0" dy="2.0" stroke-width="0" fill="#333">↑</tspan></text>
<line x1="352.60" y1="277.50" x2="502.10" y2="277.50" stroke="#b3b3b3" stroke-width="1.0"/>
<line x1="352.60" y1="306.00" x2="502.10" y2="306.00" stroke="#b3b3b3" stroke-width="1.0"/>
<line x1="352.60" y1="334.50" x2="502.10" y2="334.50" stroke="#b3b3b3" stroke-width="1.0"/>
<line x1="352.60" y1="277.50" x2="352.60" y2="334.50" stroke="#6e6e6e" stroke-width="1.1"/>
<line x1="350.00" y1="277.50" x2="352.60" y2="277.50" stroke="#444" stroke-width="0.9"/>
<text x="347.30" y="280.50" font-size="8.5" font-family="'Liberation Sans', Arial, sans-serif" font-weight="normal" text-anchor="end" stroke="#000" stroke-width="0.12" >1.0</text>
<line x1="350.00" y1="306.00" x2="352.60" y2="306.00" stroke="#444" stroke-width="0.9"/>
<text x="347.30" y="309.00" font-size="8.5" font-family="'Liberation Sans', Arial, sans-serif" font-weight="normal" text-anchor="end" stroke="#000" stroke-width="0.12" >0.5</text>
<line x1="350.00" y1="334.50" x2="352.60" y2="334.50" stroke="#444" stroke-width="0.9"/>
<text x="347.30" y="337.50" font-size="8.5" font-family="'Liberation Sans', Arial, sans-serif" font-weight="normal" text-anchor="end" stroke="#000" stroke-width="0.12" >0.0</text>
<line x1="352.60" y1="334.50" x2="502.10" y2="334.50" stroke="#8c8c8c" stroke-width="1.0"/>
<clipPath id="c5"><rect x="350.60" y="277.50" width="153.50" height="57.50"/></clipPath><g clip-path="url(#c5)">
<circle cx="360.12" cy="278.02" r="1.45" fill="#000"/>
<circle cx="361.76" cy="278.02" r="1.45" fill="#000"/>
<circle cx="363.40" cy="278.02" r="1.45" fill="#000"/>
<circle cx="368.33" cy="278.02" r="1.45" fill="#000"/>
<circle cx="369.97" cy="278.02" r="1.45" fill="#000"/>
<circle cx="371.39" cy="278.02" r="1.45" fill="#000"/>
<circle cx="366.14" cy="278.24" r="2.8" fill="#f00" fill-opacity="0.92"/>
<circle cx="405.01" cy="279.88" r="1.45" fill="#000"/>
<circle cx="409.06" cy="279.88" r="1.45" fill="#000"/>
<circle cx="406.10" cy="282.95" r="1.45" fill="#000"/>
<circle cx="409.72" cy="282.73" r="1.45" fill="#000"/>
<circle cx="402.27" cy="285.69" r="1.45" fill="#000"/>
<circle cx="412.12" cy="285.69" r="1.45" fill="#000"/>
<circle cx="404.46" cy="287.33" r="1.45" fill="#000"/>
<circle cx="408.62" cy="290.83" r="1.45" fill="#000"/>
<circle cx="406.43" cy="298.82" r="1.45" fill="#000"/>
<circle cx="407.74" cy="300.69" r="1.45" fill="#000"/>
<circle cx="407.74" cy="286.78" r="2.8" fill="#f00" fill-opacity="0.92"/>
<circle cx="426.72" cy="280.15" r="1.45" fill="#000"/>
<circle cx="429.08" cy="279.23" r="1.45" fill="#000"/>
<circle cx="426.19" cy="283.56" r="1.45" fill="#000"/>
<circle cx="430.39" cy="283.17" r="1.45" fill="#000"/>
<circle cx="422.77" cy="285.14" r="1.45" fill="#000"/>
<circle cx="432.76" cy="285.40" r="1.45" fill="#000"/>
<circle cx="425.80" cy="288.42" r="1.45" fill="#000"/>
<circle cx="429.34" cy="289.74" r="1.45" fill="#000"/>
<circle cx="427.11" cy="298.01" r="1.45" fill="#000"/>
<circle cx="428.42" cy="300.64" r="1.45" fill="#000"/>
<circle cx="428.03" cy="287.11" r="2.8" fill="#f00" fill-opacity="0.92"/>
<circle cx="447.47" cy="279.23" r="1.45" fill="#000"/>
<circle cx="450.10" cy="278.83" r="1.45" fill="#000"/>
<circle cx="447.74" cy="282.51" r="1.45" fill="#000"/>
<circle cx="450.76" cy="282.77" r="1.45" fill="#000"/>
<circle cx="444.19" cy="285.80" r="1.45" fill="#000"/>
<circle cx="453.78" cy="286.19" r="1.45" fill="#000"/>
<circle cx="446.42" cy="288.42" r="1.45" fill="#000"/>
<circle cx="449.84" cy="291.05" r="1.45" fill="#000"/>
<circle cx="448.13" cy="300.64" r="1.45" fill="#000"/>
<circle cx="449.05" cy="303.27" r="1.45" fill="#000"/>
<circle cx="448.79" cy="287.50" r="2.8" fill="#f00" fill-opacity="0.92"/>
<circle cx="466.13" cy="284.09" r="1.45" fill="#000"/>
<circle cx="471.78" cy="282.77" r="1.45" fill="#000"/>
<circle cx="473.75" cy="284.48" r="1.45" fill="#000"/>
<circle cx="467.84" cy="285.80" r="1.45" fill="#000"/>
<circle cx="470.47" cy="287.77" r="1.45" fill="#000"/>
<circle cx="466.53" cy="289.08" r="1.45" fill="#000"/>
<circle cx="466.13" cy="297.62" r="1.45" fill="#000"/>
<circle cx="473.09" cy="294.99" r="1.45" fill="#000"/>
<circle cx="470.47" cy="307.21" r="1.45" fill="#000"/>
<circle cx="468.50" cy="310.36" r="1.45" fill="#000"/>
<circle cx="469.55" cy="315.36" r="1.45" fill="#000"/>
<circle cx="469.81" cy="294.99" r="2.8" fill="#f00" fill-opacity="0.92"/>
<circle cx="490.83" cy="280.54" r="1.45" fill="#000"/>
<circle cx="489.78" cy="282.25" r="1.45" fill="#000"/>
<circle cx="491.49" cy="285.40" r="1.45" fill="#000"/>
<circle cx="489.52" cy="287.50" r="1.45" fill="#000"/>
<circle cx="486.23" cy="290.66" r="1.45" fill="#000"/>
<circle cx="495.04" cy="291.71" r="1.45" fill="#000"/>
<circle cx="486.89" cy="292.76" r="1.45" fill="#000"/>
<circle cx="490.83" cy="298.93" r="1.45" fill="#000"/>
<circle cx="489.52" cy="310.76" r="1.45" fill="#000"/>
<circle cx="490.57" cy="313.39" r="1.45" fill="#000"/>
<circle cx="490.44" cy="292.76" r="2.8" fill="#f00" fill-opacity="0.92"/>
</g>
<line x1="352.60" y1="355.00" x2="502.10" y2="355.00" stroke="#b3b3b3" stroke-width="1.0"/>
<line x1="352.60" y1="383.15" x2="502.10" y2="383.15" stroke="#b3b3b3" stroke-width="1.0"/>
<line x1="352.60" y1="411.30" x2="502.10" y2="411.30" stroke="#b3b3b3" stroke-width="1.0"/>
<line x1="352.60" y1="355.00" x2="352.60" y2="411.30" stroke="#6e6e6e" stroke-width="1.1"/>
<line x1="350.00" y1="355.00" x2="352.60" y2="355.00" stroke="#444" stroke-width="0.9"/>
<text x="347.30" y="358.00" font-size="8.5" font-family="'Liberation Sans', Arial, sans-serif" font-weight="normal" text-anchor="end" stroke="#000" stroke-width="0.12" >1.0</text>
<line x1="350.00" y1="383.15" x2="352.60" y2="383.15" stroke="#444" stroke-width="0.9"/>
<text x="347.30" y="386.15" font-size="8.5" font-family="'Liberation Sans', Arial, sans-serif" font-weight="normal" text-anchor="end" stroke="#000" stroke-width="0.12" >0.5</text>
<line x1="350.00" y1="411.30" x2="352.60" y2="411.30" stroke="#444" stroke-width="0.9"/>
<text x="347.30" y="414.30" font-size="8.5" font-family="'Liberation Sans', Arial, sans-serif" font-weight="normal" text-anchor="end" stroke="#000" stroke-width="0.12" >0.0</text>
<line x1="352.60" y1="411.30" x2="502.10" y2="411.30" stroke="#6e6e6e" stroke-width="1.1"/>
<line x1="365.06" y1="411.30" x2="365.06" y2="414.50" stroke="#5a5a5a" stroke-width="0.9"/>
<line x1="385.82" y1="411.30" x2="385.82" y2="414.50" stroke="#5a5a5a" stroke-width="0.9"/>
<line x1="406.59" y1="411.30" x2="406.59" y2="414.50" stroke="#5a5a5a" stroke-width="0.9"/>
<line x1="427.35" y1="411.30" x2="427.35" y2="414.50" stroke="#5a5a5a" stroke-width="0.9"/>
<line x1="448.11" y1="411.30" x2="448.11" y2="414.50" stroke="#5a5a5a" stroke-width="0.9"/>
<line x1="468.88" y1="411.30" x2="468.88" y2="414.50" stroke="#5a5a5a" stroke-width="0.9"/>
<line x1="489.64" y1="411.30" x2="489.64" y2="414.50" stroke="#5a5a5a" stroke-width="0.9"/>
<text transform="translate(368.16,416.70) rotate(-90)" font-size="8.7" font-family="'Liberation Sans', Arial, sans-serif" text-anchor="end" stroke="#000" stroke-width="0.12">PCA</text>
<text transform="translate(388.92,416.70) rotate(-90)" font-size="8.7" font-family="'Liberation Sans', Arial, sans-serif" text-anchor="end" stroke="#000" stroke-width="0.12">Harmony</text>
<text transform="translate(409.69,416.70) rotate(-90)" font-size="8.7" font-family="'Liberation Sans', Arial, sans-serif" text-anchor="end" stroke="#000" stroke-width="0.12">Param. Harmony</text>
<text transform="translate(430.45,416.70) rotate(-90)" font-size="8.7" font-family="'Liberation Sans', Arial, sans-serif" text-anchor="end" stroke="#000" stroke-width="0.12">multi-cond. PCA</text>
<text transform="translate(451.21,416.70) rotate(-90)" font-size="8.7" font-family="'Liberation Sans', Arial, sans-serif" text-anchor="end" stroke="#000" stroke-width="0.12">LEMUR</text>
<text transform="translate(471.98,416.70) rotate(-90)" font-size="8.7" font-family="'Liberation Sans', Arial, sans-serif" text-anchor="end" stroke="#000" stroke-width="0.12">CPA</text>
<text transform="translate(492.74,416.70) rotate(-90)" font-size="8.7" font-family="'Liberation Sans', Arial, sans-serif" text-anchor="end" stroke="#000" stroke-width="0.12">scVI</text>
<clipPath id="c6"><rect x="350.60" y="355.00" width="153.50" height="56.80"/></clipPath><g clip-path="url(#c6)">
<circle cx="360.12" cy="355.26" r="1.45" fill="#000"/>
<circle cx="361.76" cy="355.26" r="1.45" fill="#000"/>
<circle cx="363.40" cy="355.26" r="1.45" fill="#000"/>
<circle cx="368.33" cy="355.26" r="1.45" fill="#000"/>
<circle cx="369.97" cy="355.26" r="1.45" fill="#000"/>
<circle cx="371.39" cy="355.26" r="1.45" fill="#000"/>
<circle cx="366.14" cy="355.69" r="2.8" fill="#f00" fill-opacity="0.92"/>
<circle cx="383.44" cy="358.76" r="1.45" fill="#000"/>
<circle cx="388.04" cy="356.79" r="1.45" fill="#000"/>
<circle cx="390.77" cy="359.31" r="1.45" fill="#000"/>
<circle cx="382.01" cy="360.95" r="1.45" fill="#000"/>
<circle cx="384.75" cy="360.07" r="1.45" fill="#000"/>
<circle cx="387.82" cy="360.95" r="1.45" fill="#000"/>
<circle cx="384.53" cy="369.93" r="1.45" fill="#000"/>
<circle cx="388.04" cy="372.23" r="1.45" fill="#000"/>
<circle cx="385.63" cy="379.78" r="1.45" fill="#000"/>
<circle cx="386.72" cy="381.75" r="1.45" fill="#000"/>
<circle cx="387.16" cy="366.20" r="2.8" fill="#f00" fill-opacity="0.92"/>
<circle cx="408.29" cy="356.35" r="1.45" fill="#000"/>
<circle cx="405.34" cy="359.31" r="1.45" fill="#000"/>
<circle cx="410.15" cy="360.07" r="1.45" fill="#000"/>
<circle cx="406.65" cy="361.82" r="1.45" fill="#000"/>
<circle cx="403.15" cy="364.45" r="1.45" fill="#000"/>
<circle cx="411.91" cy="365.55" r="1.45" fill="#000"/>
<circle cx="403.36" cy="368.39" r="1.45" fill="#000"/>
<circle cx="409.93" cy="368.83" r="1.45" fill="#000"/>
<circle cx="405.55" cy="379.01" r="1.45" fill="#000"/>
<circle cx="407.53" cy="379.34" r="1.45" fill="#000"/>
<circle cx="407.53" cy="366.20" r="2.8" fill="#f00" fill-opacity="0.92"/>
<circle cx="428.82" cy="357.62" r="1.45" fill="#000"/>
<circle cx="425.14" cy="360.51" r="1.45" fill="#000"/>
<circle cx="431.71" cy="360.77" r="1.45" fill="#000"/>
<circle cx="423.17" cy="362.48" r="1.45" fill="#000"/>
<circle cx="431.45" cy="363.80" r="1.45" fill="#000"/>
<circle cx="425.40" cy="369.71" r="1.45" fill="#000"/>
<circle cx="429.74" cy="370.36" r="1.45" fill="#000"/>
<circle cx="427.11" cy="377.33" r="1.45" fill="#000"/>
<circle cx="428.42" cy="378.25" r="1.45" fill="#000"/>
<circle cx="428.42" cy="366.03" r="2.8" fill="#f00" fill-opacity="0.92"/>
<circle cx="446.82" cy="358.15" r="1.45" fill="#000"/>
<circle cx="450.36" cy="357.88" r="1.45" fill="#000"/>
<circle cx="447.47" cy="362.09" r="1.45" fill="#000"/>
<circle cx="450.76" cy="362.88" r="1.45" fill="#000"/>
<circle cx="443.53" cy="365.77" r="1.45" fill="#000"/>
<circle cx="453.78" cy="366.03" r="1.45" fill="#000"/>
<circle cx="445.90" cy="369.45" r="1.45" fill="#000"/>
<circle cx="450.76" cy="369.71" r="1.45" fill="#000"/>
<circle cx="447.21" cy="378.25" r="1.45" fill="#000"/>
<circle cx="449.05" cy="379.17" r="1.45" fill="#000"/>
<circle cx="449.05" cy="366.42" r="2.8" fill="#f00" fill-opacity="0.92"/>
<circle cx="466.53" cy="361.17" r="1.45" fill="#000"/>
<circle cx="471.39" cy="360.25" r="1.45" fill="#000"/>
<circle cx="473.09" cy="363.14" r="1.45" fill="#000"/>
<circle cx="468.23" cy="365.11" r="1.45" fill="#000"/>
<circle cx="470.47" cy="365.50" r="1.45" fill="#000"/>
<circle cx="464.55" cy="369.71" r="1.45" fill="#000"/>
<circle cx="474.41" cy="369.71" r="1.45" fill="#000"/>
<circle cx="467.18" cy="373.65" r="1.45" fill="#000"/>
<circle cx="470.47" cy="383.50" r="1.45" fill="#000"/>
<circle cx="468.50" cy="387.84" r="1.45" fill="#000"/>
<circle cx="469.55" cy="393.09" r="1.45" fill="#000"/>
<circle cx="469.55" cy="372.07" r="2.8" fill="#f00" fill-opacity="0.92"/>
<circle cx="490.83" cy="358.15" r="1.45" fill="#000"/>
<circle cx="488.86" cy="361.56" r="1.45" fill="#000"/>
<circle cx="489.78" cy="364.19" r="1.45" fill="#000"/>
<circle cx="492.41" cy="363.80" r="1.45" fill="#000"/>
<circle cx="484.92" cy="366.82" r="1.45" fill="#000"/>
<circle cx="495.04" cy="367.08" r="1.45" fill="#000"/>
<circle cx="490.83" cy="378.91" r="1.45" fill="#000"/>
<circle cx="489.78" cy="384.82" r="1.45" fill="#000"/>
<circle cx="490.44" cy="389.15" r="1.45" fill="#000"/>
<circle cx="490.18" cy="369.71" r="2.8" fill="#f00" fill-opacity="0.92"/>
</g>
<text x="601.60" y="273.60" font-size="8.7" font-family="'Liberation Sans', Arial, sans-serif" font-weight="normal" text-anchor="middle" stroke="#000" stroke-width="0.12" >Var. explained by cell type <tspan font-family="Noto Sans CJK JP, sans-serif" dx="-2.0" dy="2.0" stroke-width="0" fill="#333">↑</tspan></text>
<line x1="524.80" y1="277.50" x2="674.80" y2="277.50" stroke="#b3b3b3" stroke-width="1.0"/>
<line x1="524.80" y1="306.00" x2="674.80" y2="306.00" stroke="#b3b3b3" stroke-width="1.0"/>
<line x1="524.80" y1="334.50" x2="674.80" y2="334.50" stroke="#b3b3b3" stroke-width="1.0"/>
<line x1="524.80" y1="277.50" x2="524.80" y2="334.50" stroke="#6e6e6e" stroke-width="1.1"/>
<line x1="522.20" y1="277.50" x2="524.80" y2="277.50" stroke="#444" stroke-width="0.9"/>
<text x="519.50" y="280.50" font-size="8.5" font-family="'Liberation Sans', Arial, sans-serif" font-weight="normal" text-anchor="end" stroke="#000" stroke-width="0.12" >1.0</text>
<line x1="522.20" y1="306.00" x2="524.80" y2="306.00" stroke="#444" stroke-width="0.9"/>
<text x="519.50" y="309.00" font-size="8.5" font-family="'Liberation Sans', Arial, sans-serif" font-weight="normal" text-anchor="end" stroke="#000" stroke-width="0.12" >0.5</text>
<line x1="522.20" y1="334.50" x2="524.80" y2="334.50" stroke="#444" stroke-width="0.9"/>
<text x="519.50" y="337.50" font-size="8.5" font-family="'Liberation Sans', Arial, sans-serif" font-weight="normal" text-anchor="end" stroke="#000" stroke-width="0.12" >0.0</text>
<line x1="524.80" y1="334.50" x2="674.80" y2="334.50" stroke="#8c8c8c" stroke-width="1.0"/>
<clipPath id="c7"><rect x="522.80" y="277.50" width="154.00" height="57.50"/></clipPath><g clip-path="url(#c7)">
<circle cx="538.69" cy="280.76" r="1.45" fill="#000"/>
<circle cx="536.50" cy="293.35" r="1.45" fill="#000"/>
<circle cx="540.88" cy="297.95" r="1.45" fill="#000"/>
<circle cx="536.28" cy="301.01" r="1.45" fill="#000"/>
<circle cx="538.69" cy="301.01" r="1.45" fill="#000"/>
<circle cx="534.31" cy="307.58" r="1.45" fill="#000"/>
<circle cx="542.52" cy="309.77" r="1.45" fill="#000"/>
<circle cx="536.82" cy="311.42" r="1.45" fill="#000"/>
<circle cx="533.76" cy="314.48" r="1.45" fill="#000"/>
<circle cx="539.45" cy="313.82" r="1.45" fill="#000"/>
<circle cx="540.33" cy="318.53" r="1.45" fill="#000"/>
<circle cx="536.82" cy="321.49" r="1.45" fill="#000"/>
<circle cx="538.14" cy="330.91" r="1.45" fill="#000"/>
<circle cx="537.92" cy="307.91" r="2.8" fill="#f00" fill-opacity="0.92"/>
<circle cx="580.29" cy="279.88" r="1.45" fill="#000"/>
<circle cx="578.10" cy="293.90" r="1.45" fill="#000"/>
<circle cx="578.10" cy="298.50" r="1.45" fill="#000"/>
<circle cx="582.15" cy="298.50" r="1.45" fill="#000"/>
<circle cx="579.96" cy="301.78" r="1.45" fill="#000"/>
<circle cx="576.24" cy="309.77" r="1.45" fill="#000"/>
<circle cx="584.12" cy="311.96" r="1.45" fill="#000"/>
<circle cx="575.15" cy="315.03" r="1.45" fill="#000"/>
<circle cx="578.10" cy="314.15" r="1.45" fill="#000"/>
<circle cx="581.06" cy="315.25" r="1.45" fill="#000"/>
<circle cx="581.72" cy="320.39" r="1.45" fill="#000"/>
<circle cx="578.10" cy="322.91" r="1.45" fill="#000"/>
<circle cx="579.42" cy="330.91" r="1.45" fill="#000"/>
<circle cx="579.42" cy="308.68" r="2.8" fill="#f00" fill-opacity="0.92"/>
<circle cx="600.77" cy="280.15" r="1.45" fill="#000"/>
<circle cx="598.14" cy="291.97" r="1.45" fill="#000"/>
<circle cx="602.74" cy="293.28" r="1.45" fill="#000"/>
<circle cx="598.80" cy="296.70" r="1.45" fill="#000"/>
<circle cx="600.50" cy="300.91" r="1.45" fill="#000"/>
<circle cx="597.48" cy="304.58" r="1.45" fill="#000"/>
<circle cx="598.80" cy="311.15" r="1.45" fill="#000"/>
<circle cx="595.77" cy="312.99" r="1.45" fill="#000"/>
<circle cx="601.82" cy="312.73" r="1.45" fill="#000"/>
<circle cx="604.71" cy="310.76" r="1.45" fill="#000"/>
<circle cx="602.08" cy="319.30" r="1.45" fill="#000"/>
<circle cx="598.53" cy="321.27" r="1.45" fill="#000"/>
<circle cx="600.37" cy="330.73" r="1.45" fill="#000"/>
<circle cx="600.11" cy="306.55" r="2.8" fill="#f00" fill-opacity="0.92"/>
<circle cx="621.39" cy="280.15" r="1.45" fill="#000"/>
<circle cx="618.90" cy="293.68" r="1.45" fill="#000"/>
<circle cx="623.36" cy="295.39" r="1.45" fill="#000"/>
<circle cx="619.42" cy="298.54" r="1.45" fill="#000"/>
<circle cx="621.13" cy="301.96" r="1.45" fill="#000"/>
<circle cx="617.85" cy="309.45" r="1.45" fill="#000"/>
<circle cx="616.53" cy="314.31" r="1.45" fill="#000"/>
<circle cx="619.42" cy="314.04" r="1.45" fill="#000"/>
<circle cx="622.84" cy="314.31" r="1.45" fill="#000"/>
<circle cx="625.73" cy="312.07" r="1.45" fill="#000"/>
<circle cx="622.84" cy="320.35" r="1.45" fill="#000"/>
<circle cx="619.42" cy="322.98" r="1.45" fill="#000"/>
<circle cx="621.13" cy="330.86" r="1.45" fill="#000"/>
<circle cx="620.74" cy="308.13" r="2.8" fill="#f00" fill-opacity="0.92"/>
<circle cx="642.55" cy="279.23" r="1.45" fill="#000"/>
<circle cx="639.92" cy="282.77" r="1.45" fill="#000"/>
<circle cx="643.07" cy="286.72" r="1.45" fill="#000"/>
<circle cx="640.45" cy="294.99" r="1.45" fill="#000"/>
<circle cx="637.29" cy="298.93" r="1.45" fill="#000"/>
<circle cx="642.81" cy="297.23" r="1.45" fill="#000"/>
<circle cx="645.70" cy="300.25" r="1.45" fill="#000"/>
<circle cx="640.18" cy="306.42" r="1.45" fill="#000"/>
<circle cx="642.81" cy="307.47" r="1.45" fill="#000"/>
<circle cx="636.90" cy="309.45" r="1.45" fill="#000"/>
<circle cx="644.78" cy="311.15" r="1.45" fill="#000"/>
<circle cx="639.53" cy="312.47" r="1.45" fill="#000"/>
<circle cx="641.50" cy="322.58" r="1.45" fill="#000"/>
<circle cx="641.76" cy="300.64" r="2.8" fill="#f00" fill-opacity="0.92"/>
<circle cx="663.57" cy="279.88" r="1.45" fill="#000"/>
<circle cx="660.55" cy="282.25" r="1.45" fill="#000"/>
<circle cx="660.55" cy="288.42" r="1.45" fill="#000"/>
<circle cx="665.15" cy="288.42" r="1.45" fill="#000"/>
<circle cx="657.00" cy="292.76" r="1.45" fill="#000"/>
<circle cx="667.12" cy="293.02" r="1.45" fill="#000"/>
<circle cx="663.83" cy="291.71" r="1.45" fill="#000"/>
<circle cx="657.92" cy="301.56" r="1.45" fill="#000"/>
<circle cx="663.83" cy="301.17" r="1.45" fill="#000"/>
<circle cx="665.80" cy="302.88" r="1.45" fill="#000"/>
<circle cx="659.89" cy="304.19" r="1.45" fill="#000"/>
<circle cx="662.52" cy="312.73" r="1.45" fill="#000"/>
<circle cx="662.52" cy="294.99" r="2.8" fill="#f00" fill-opacity="0.92"/>
</g>
<line x1="524.80" y1="355.00" x2="674.80" y2="355.00" stroke="#b3b3b3" stroke-width="1.0"/>
<line x1="524.80" y1="383.15" x2="674.80" y2="383.15" stroke="#b3b3b3" stroke-width="1.0"/>
<line x1="524.80" y1="411.30" x2="674.80" y2="411.30" stroke="#b3b3b3" stroke-width="1.0"/>
<line x1="524.80" y1="355.00" x2="524.80" y2="411.30" stroke="#6e6e6e" stroke-width="1.1"/>
<line x1="522.20" y1="355.00" x2="524.80" y2="355.00" stroke="#444" stroke-width="0.9"/>
<text x="519.50" y="358.00" font-size="8.5" font-family="'Liberation Sans', Arial, sans-serif" font-weight="normal" text-anchor="end" stroke="#000" stroke-width="0.12" >1.0</text>
<line x1="522.20" y1="383.15" x2="524.80" y2="383.15" stroke="#444" stroke-width="0.9"/>
<text x="519.50" y="386.15" font-size="8.5" font-family="'Liberation Sans', Arial, sans-serif" font-weight="normal" text-anchor="end" stroke="#000" stroke-width="0.12" >0.5</text>
<line x1="522.20" y1="411.30" x2="524.80" y2="411.30" stroke="#444" stroke-width="0.9"/>
<text x="519.50" y="414.30" font-size="8.5" font-family="'Liberation Sans', Arial, sans-serif" font-weight="normal" text-anchor="end" stroke="#000" stroke-width="0.12" >0.0</text>
<line x1="524.80" y1="411.30" x2="674.80" y2="411.30" stroke="#6e6e6e" stroke-width="1.1"/>
<line x1="537.30" y1="411.30" x2="537.30" y2="414.50" stroke="#5a5a5a" stroke-width="0.9"/>
<line x1="558.13" y1="411.30" x2="558.13" y2="414.50" stroke="#5a5a5a" stroke-width="0.9"/>
<line x1="578.97" y1="411.30" x2="578.97" y2="414.50" stroke="#5a5a5a" stroke-width="0.9"/>
<line x1="599.80" y1="411.30" x2="599.80" y2="414.50" stroke="#5a5a5a" stroke-width="0.9"/>
<line x1="620.63" y1="411.30" x2="620.63" y2="414.50" stroke="#5a5a5a" stroke-width="0.9"/>
<line x1="641.47" y1="411.30" x2="641.47" y2="414.50" stroke="#5a5a5a" stroke-width="0.9"/>
<line x1="662.30" y1="411.30" x2="662.30" y2="414.50" stroke="#5a5a5a" stroke-width="0.9"/>
<text transform="translate(540.40,416.70) rotate(-90)" font-size="8.7" font-family="'Liberation Sans', Arial, sans-serif" text-anchor="end" stroke="#000" stroke-width="0.12">PCA</text>
<text transform="translate(561.23,416.70) rotate(-90)" font-size="8.7" font-family="'Liberation Sans', Arial, sans-serif" text-anchor="end" stroke="#000" stroke-width="0.12">Harmony</text>
<text transform="translate(582.07,416.70) rotate(-90)" font-size="8.7" font-family="'Liberation Sans', Arial, sans-serif" text-anchor="end" stroke="#000" stroke-width="0.12">Param. Harmony</text>
<text transform="translate(602.90,416.70) rotate(-90)" font-size="8.7" font-family="'Liberation Sans', Arial, sans-serif" text-anchor="end" stroke="#000" stroke-width="0.12">multi-cond. PCA</text>
<text transform="translate(623.73,416.70) rotate(-90)" font-size="8.7" font-family="'Liberation Sans', Arial, sans-serif" text-anchor="end" stroke="#000" stroke-width="0.12">LEMUR</text>
<text transform="translate(644.57,416.70) rotate(-90)" font-size="8.7" font-family="'Liberation Sans', Arial, sans-serif" text-anchor="end" stroke="#000" stroke-width="0.12">CPA</text>
<text transform="translate(665.40,416.70) rotate(-90)" font-size="8.7" font-family="'Liberation Sans', Arial, sans-serif" text-anchor="end" stroke="#000" stroke-width="0.12">scVI</text>
<clipPath id="c8"><rect x="522.80" y="355.00" width="154.00" height="56.80"/></clipPath><g clip-path="url(#c8)">
<circle cx="538.69" cy="358.21" r="1.45" fill="#000"/>
<circle cx="536.50" cy="369.71" r="1.45" fill="#000"/>
<circle cx="540.55" cy="374.09" r="1.45" fill="#000"/>
<circle cx="536.28" cy="377.92" r="1.45" fill="#000"/>
<circle cx="538.69" cy="378.25" r="1.45" fill="#000"/>
<circle cx="533.98" cy="385.26" r="1.45" fill="#000"/>
<circle cx="542.52" cy="386.68" r="1.45" fill="#000"/>
<circle cx="536.50" cy="388.32" r="1.45" fill="#000"/>
<circle cx="533.98" cy="391.39" r="1.45" fill="#000"/>
<circle cx="539.45" cy="390.73" r="1.45" fill="#000"/>
<circle cx="539.78" cy="395.44" r="1.45" fill="#000"/>
<circle cx="536.82" cy="399.27" r="1.45" fill="#000"/>
<circle cx="538.14" cy="408.25" r="1.45" fill="#000"/>
<circle cx="537.92" cy="385.04" r="2.8" fill="#f00" fill-opacity="0.92"/>
<circle cx="559.49" cy="357.12" r="1.45" fill="#000"/>
<circle cx="557.30" cy="369.93" r="1.45" fill="#000"/>
<circle cx="560.91" cy="373.54" r="1.45" fill="#000"/>
<circle cx="557.30" cy="376.82" r="1.45" fill="#000"/>
<circle cx="559.49" cy="379.34" r="1.45" fill="#000"/>
<circle cx="555.11" cy="387.01" r="1.45" fill="#000"/>
<circle cx="563.32" cy="388.87" r="1.45" fill="#000"/>
<circle cx="554.34" cy="391.82" r="1.45" fill="#000"/>
<circle cx="557.30" cy="391.39" r="1.45" fill="#000"/>
<circle cx="560.26" cy="391.39" r="1.45" fill="#000"/>
<circle cx="560.26" cy="397.63" r="1.45" fill="#000"/>
<circle cx="557.63" cy="400.58" r="1.45" fill="#000"/>
<circle cx="558.72" cy="408.25" r="1.45" fill="#000"/>
<circle cx="558.72" cy="385.58" r="2.8" fill="#f00" fill-opacity="0.92"/>
<circle cx="580.07" cy="357.12" r="1.45" fill="#000"/>
<circle cx="578.10" cy="369.93" r="1.45" fill="#000"/>
<circle cx="581.93" cy="374.96" r="1.45" fill="#000"/>
<circle cx="578.10" cy="375.73" r="1.45" fill="#000"/>
<circle cx="579.96" cy="379.34" r="1.45" fill="#000"/>
<circle cx="575.58" cy="387.01" r="1.45" fill="#000"/>
<circle cx="584.12" cy="388.87" r="1.45" fill="#000"/>
<circle cx="575.15" cy="391.82" r="1.45" fill="#000"/>
<circle cx="578.10" cy="391.39" r="1.45" fill="#000"/>
<circle cx="581.06" cy="391.82" r="1.45" fill="#000"/>
<circle cx="581.06" cy="397.63" r="1.45" fill="#000"/>
<circle cx="578.32" cy="400.91" r="1.45" fill="#000"/>
<circle cx="579.53" cy="408.25" r="1.45" fill="#000"/>
<circle cx="579.42" cy="385.58" r="2.8" fill="#f00" fill-opacity="0.92"/>
<circle cx="600.77" cy="357.23" r="1.45" fill="#000"/>
<circle cx="598.14" cy="368.13" r="1.45" fill="#000"/>
<circle cx="602.74" cy="369.45" r="1.45" fill="#000"/>
<circle cx="599.19" cy="373.39" r="1.45" fill="#000"/>
<circle cx="600.77" cy="378.25" r="1.45" fill="#000"/>
<circle cx="597.09" cy="382.19" r="1.45" fill="#000"/>
<circle cx="598.80" cy="388.10" r="1.45" fill="#000"/>
<circle cx="595.77" cy="389.68" r="1.45" fill="#000"/>
<circle cx="601.82" cy="389.42" r="1.45" fill="#000"/>
<circle cx="604.71" cy="386.79" r="1.45" fill="#000"/>
<circle cx="601.82" cy="396.25" r="1.45" fill="#000"/>
<circle cx="598.80" cy="399.27" r="1.45" fill="#000"/>
<circle cx="600.37" cy="407.81" r="1.45" fill="#000"/>
<circle cx="600.11" cy="383.50" r="2.8" fill="#f00" fill-opacity="0.92"/>
<circle cx="621.53" cy="356.83" r="1.45" fill="#000"/>
<circle cx="619.16" cy="369.45" r="1.45" fill="#000"/>
<circle cx="623.36" cy="370.76" r="1.45" fill="#000"/>
<circle cx="619.82" cy="374.70" r="1.45" fill="#000"/>
<circle cx="621.53" cy="378.91" r="1.45" fill="#000"/>
<circle cx="616.80" cy="386.53" r="1.45" fill="#000"/>
<circle cx="616.53" cy="391.39" r="1.45" fill="#000"/>
<circle cx="619.42" cy="390.47" r="1.45" fill="#000"/>
<circle cx="622.84" cy="390.99" r="1.45" fill="#000"/>
<circle cx="625.47" cy="388.36" r="1.45" fill="#000"/>
<circle cx="622.84" cy="397.04" r="1.45" fill="#000"/>
<circle cx="619.69" cy="400.58" r="1.45" fill="#000"/>
<circle cx="621.13" cy="408.07" r="1.45" fill="#000"/>
<circle cx="620.74" cy="384.82" r="2.8" fill="#f00" fill-opacity="0.92"/>
<circle cx="642.81" cy="356.31" r="1.45" fill="#000"/>
<circle cx="639.53" cy="359.46" r="1.45" fill="#000"/>
<circle cx="643.47" cy="363.40" r="1.45" fill="#000"/>
<circle cx="640.18" cy="371.28" r="1.45" fill="#000"/>
<circle cx="636.50" cy="375.62" r="1.45" fill="#000"/>
<circle cx="642.81" cy="374.70" r="1.45" fill="#000"/>
<circle cx="646.09" cy="376.01" r="1.45" fill="#000"/>
<circle cx="640.18" cy="382.58" r="1.45" fill="#000"/>
<circle cx="642.81" cy="383.50" r="1.45" fill="#000"/>
<circle cx="637.29" cy="386.13" r="1.45" fill="#000"/>
<circle cx="644.52" cy="388.36" r="1.45" fill="#000"/>
<circle cx="639.53" cy="389.68" r="1.45" fill="#000"/>
<circle cx="641.76" cy="399.66" r="1.45" fill="#000"/>
<circle cx="641.76" cy="377.33" r="2.8" fill="#f00" fill-opacity="0.92"/>
<circle cx="663.57" cy="356.83" r="1.45" fill="#000"/>
<circle cx="660.55" cy="359.46" r="1.45" fill="#000"/>
<circle cx="660.55" cy="365.50" r="1.45" fill="#000"/>
<circle cx="665.41" cy="365.11" r="1.45" fill="#000"/>
<circle cx="657.26" cy="369.71" r="1.45" fill="#000"/>
<circle cx="666.72" cy="369.97" r="1.45" fill="#000"/>
<circle cx="663.57" cy="367.74" r="1.45" fill="#000"/>
<circle cx="657.92" cy="378.25" r="1.45" fill="#000"/>
<circle cx="663.83" cy="377.85" r="1.45" fill="#000"/>
<circle cx="665.41" cy="379.56" r="1.45" fill="#000"/>
<circle cx="660.15" cy="381.53" r="1.45" fill="#000"/>
<circle cx="662.52" cy="390.07" r="1.45" fill="#000"/>
<circle cx="662.52" cy="372.07" r="2.8" fill="#f00" fill-opacity="0.92"/>
</g>
<text x="681.00" y="306.00" font-size="8.5" font-family="'Liberation Sans', Arial, sans-serif" font-weight="normal" text-anchor="middle" stroke="#000" stroke-width="0.12" transform="rotate(90 681.0 306.0)" dominant-baseline="central">Holdout</text>
<text x="681.00" y="383.00" font-size="8.5" font-family="'Liberation Sans', Arial, sans-serif" font-weight="normal" text-anchor="middle" stroke="#000" stroke-width="0.12" transform="rotate(90 681.0 383.0)" dominant-baseline="central">Training</text>
<text transform="translate(23.0,502.4) scale(1,1.1)" font-size="11.5" font-family="'Liberation Sans', Arial, sans-serif" font-weight="bold">(C) Ratio of variance explained</text>
<text x="214.5" y="497.6" font-size="7.9" font-family="'Liberation Sans', Arial, sans-serif" font-weight="bold" text-anchor="middle">condition</text>
<line x1="196.2" y1="499.5" x2="232.7" y2="499.5" stroke="#222" stroke-width="0.8"/>
<text x="214.5" y="505.9" font-size="7.9" font-family="'Liberation Sans', Arial, sans-serif" font-weight="bold" text-anchor="middle">cell type</text>
<text transform="translate(237.4,502.4) scale(1,1.1)" font-size="11.45" font-family="'Liberation Sans', Arial, sans-serif" font-weight="bold">(log-scale)</text>
<text x="93.60" y="521.40" font-size="8.0" font-family="'Noto Sans CJK JP', sans-serif" font-weight="normal" text-anchor="middle"  fill="#444">↓</text>
<line x1="22.70" y1="530.60" x2="163.60" y2="530.60" stroke="#b3b3b3" stroke-width="1.0"/>
<line x1="22.70" y1="556.20" x2="163.60" y2="556.20" stroke="#b3b3b3" stroke-width="1.0"/>
<line x1="22.70" y1="581.40" x2="163.60" y2="581.40" stroke="#b3b3b3" stroke-width="1.0"/>
<line x1="22.70" y1="524.60" x2="22.70" y2="581.40" stroke="#6e6e6e" stroke-width="1.1"/>
<line x1="20.10" y1="530.60" x2="22.70" y2="530.60" stroke="#444" stroke-width="0.9"/>
<text x="0.20" y="533.60" font-size="9" font-family="'Liberation Serif', 'DejaVu Serif', serif" stroke="#000" stroke-width="0.12">10<tspan x="8.90" dy="-2.9" font-size="6.3">−</tspan><tspan dx="0.9" font-size="6.3">1</tspan></text>
<line x1="20.10" y1="556.20" x2="22.70" y2="556.20" stroke="#444" stroke-width="0.9"/>
<text x="0.20" y="559.20" font-size="9" font-family="'Liberation Serif', 'DejaVu Serif', serif" stroke="#000" stroke-width="0.12">10<tspan x="8.90" dy="-2.9" font-size="6.3">−</tspan><tspan dx="0.9" font-size="6.3">3</tspan></text>
<line x1="20.10" y1="581.40" x2="22.70" y2="581.40" stroke="#444" stroke-width="0.9"/>
<text x="0.20" y="584.40" font-size="9" font-family="'Liberation Serif', 'DejaVu Serif', serif" stroke="#000" stroke-width="0.12">10<tspan x="8.90" dy="-2.9" font-size="6.3">−</tspan><tspan dx="0.9" font-size="6.3">5</tspan></text>
<line x1="22.70" y1="581.40" x2="163.60" y2="581.40" stroke="#9a9a9a" stroke-width="1.0"/>
<circle cx="35.04" cy="526.02" r="1.45" fill="#000"/>
<circle cx="33.62" cy="529.64" r="1.45" fill="#000"/>
<circle cx="31.76" cy="533.69" r="1.45" fill="#000"/>
<circle cx="36.69" cy="533.14" r="1.45" fill="#000"/>
<circle cx="30.66" cy="535.88" r="1.45" fill="#000"/>
<circle cx="38.33" cy="537.30" r="1.45" fill="#000"/>
<circle cx="30.45" cy="539.16" r="1.45" fill="#000"/>
<circle cx="33.40" cy="538.61" r="1.45" fill="#000"/>
<circle cx="37.01" cy="539.49" r="1.45" fill="#000"/>
<circle cx="33.62" cy="543.54" r="1.45" fill="#000"/>
<circle cx="34.50" cy="547.59" r="1.45" fill="#000"/>
<circle cx="35.04" cy="535.33" r="1.45" fill="#000"/>
<circle cx="34.50" cy="536.42" r="2.8" fill="#f00" fill-opacity="0.92"/>
<circle cx="74.46" cy="548.47" r="1.45" fill="#000"/>
<circle cx="70.96" cy="550.44" r="1.45" fill="#000"/>
<circle cx="76.87" cy="550.88" r="1.45" fill="#000"/>
<circle cx="68.77" cy="552.30" r="1.45" fill="#000"/>
<circle cx="77.53" cy="552.85" r="1.45" fill="#000"/>
<circle cx="71.18" cy="557.77" r="1.45" fill="#000"/>
<circle cx="75.01" cy="559.64" r="1.45" fill="#000"/>
<circle cx="72.27" cy="563.80" r="1.45" fill="#000"/>
<circle cx="73.58" cy="564.01" r="1.45" fill="#000"/>
<circle cx="72.82" cy="555.04" r="1.45" fill="#000"/>
<circle cx="73.36" cy="554.82" r="2.8" fill="#f00" fill-opacity="0.92"/>
<circle cx="94.27" cy="532.66" r="1.45" fill="#000"/>
<circle cx="91.79" cy="534.64" r="1.45" fill="#000"/>
<circle cx="90.92" cy="538.86" r="1.45" fill="#000"/>
<circle cx="93.90" cy="538.86" r="1.45" fill="#000"/>
<circle cx="96.75" cy="538.61" r="1.45" fill="#000"/>
<circle cx="89.31" cy="541.09" r="1.45" fill="#000"/>
<circle cx="97.37" cy="543.33" r="1.45" fill="#000"/>
<circle cx="89.93" cy="546.06" r="1.45" fill="#000"/>
<circle cx="94.27" cy="549.16" r="1.45" fill="#000"/>
<circle cx="92.41" cy="554.99" r="1.45" fill="#000"/>
<circle cx="93.40" cy="558.47" r="1.45" fill="#000"/>
<circle cx="93.40" cy="543.82" r="2.8" fill="#f00" fill-opacity="0.92"/>
<circle cx="113.50" cy="547.05" r="1.45" fill="#000"/>
<circle cx="110.15" cy="549.53" r="1.45" fill="#000"/>
<circle cx="115.99" cy="550.03" r="1.45" fill="#000"/>
<circle cx="111.02" cy="551.27" r="1.45" fill="#000"/>
<circle cx="108.79" cy="558.72" r="1.45" fill="#000"/>
<circle cx="116.98" cy="557.23" r="1.45" fill="#000"/>
<circle cx="114.99" cy="559.46" r="1.45" fill="#000"/>
<circle cx="111.64" cy="561.94" r="1.45" fill="#000"/>
<circle cx="112.88" cy="565.29" r="1.45" fill="#000"/>
<circle cx="112.88" cy="555.74" r="2.8" fill="#f00" fill-opacity="0.92"/>
<circle cx="133.36" cy="547.05" r="1.45" fill="#000"/>
<circle cx="130.26" cy="548.29" r="1.45" fill="#000"/>
<circle cx="127.15" cy="551.27" r="1.45" fill="#000"/>
<circle cx="135.84" cy="550.40" r="1.45" fill="#000"/>
<circle cx="129.01" cy="556.98" r="1.45" fill="#000"/>
<circle cx="134.60" cy="556.98" r="1.45" fill="#000"/>
<circle cx="132.36" cy="565.66" r="1.45" fill="#000"/>
<circle cx="130.88" cy="554.74" r="1.45" fill="#000"/>
<circle cx="132.36" cy="553.26" r="2.8" fill="#f00" fill-opacity="0.92"/>
<circle cx="152.59" cy="536.75" r="1.45" fill="#000"/>
<circle cx="150.11" cy="541.09" r="1.45" fill="#000"/>
<circle cx="154.20" cy="541.34" r="1.45" fill="#000"/>
<circle cx="147.63" cy="545.44" r="1.45" fill="#000"/>
<circle cx="155.94" cy="545.44" r="1.45" fill="#000"/>
<circle cx="151.97" cy="550.77" r="1.45" fill="#000"/>
<circle cx="150.73" cy="548.54" r="1.45" fill="#000"/>
<circle cx="151.97" cy="545.19" r="2.8" fill="#f00" fill-opacity="0.92"/>
<line x1="22.70" y1="608.50" x2="163.60" y2="608.50" stroke="#b3b3b3" stroke-width="1.0"/>
<line x1="22.70" y1="633.40" x2="163.60" y2="633.40" stroke="#b3b3b3" stroke-width="1.0"/>
<line x1="22.70" y1="658.20" x2="163.60" y2="658.20" stroke="#b3b3b3" stroke-width="1.0"/>
<line x1="22.70" y1="602.40" x2="22.70" y2="658.20" stroke="#6e6e6e" stroke-width="1.1"/>
<line x1="20.10" y1="608.50" x2="22.70" y2="608.50" stroke="#444" stroke-width="0.9"/>
<text x="0.20" y="611.50" font-size="9" font-family="'Liberation Serif', 'DejaVu Serif', serif" stroke="#000" stroke-width="0.12">10<tspan x="8.90" dy="-2.9" font-size="6.3">−</tspan><tspan dx="0.9" font-size="6.3">1</tspan></text>
<line x1="20.10" y1="633.40" x2="22.70" y2="633.40" stroke="#444" stroke-width="0.9"/>
<text x="0.20" y="636.40" font-size="9" font-family="'Liberation Serif', 'DejaVu Serif', serif" stroke="#000" stroke-width="0.12">10<tspan x="8.90" dy="-2.9" font-size="6.3">−</tspan><tspan dx="0.9" font-size="6.3">3</tspan></text>
<line x1="20.10" y1="658.20" x2="22.70" y2="658.20" stroke="#444" stroke-width="0.9"/>
<text x="0.20" y="661.20" font-size="9" font-family="'Liberation Serif', 'DejaVu Serif', serif" stroke="#000" stroke-width="0.12">10<tspan x="8.90" dy="-2.9" font-size="6.3">−</tspan><tspan dx="0.9" font-size="6.3">5</tspan></text>
<line x1="22.70" y1="658.20" x2="163.60" y2="658.20" stroke="#6e6e6e" stroke-width="1.1"/>
<line x1="34.44" y1="658.20" x2="34.44" y2="661.40" stroke="#5a5a5a" stroke-width="0.9"/>
<line x1="54.01" y1="658.20" x2="54.01" y2="661.40" stroke="#5a5a5a" stroke-width="0.9"/>
<line x1="73.58" y1="658.20" x2="73.58" y2="661.40" stroke="#5a5a5a" stroke-width="0.9"/>
<line x1="93.15" y1="658.20" x2="93.15" y2="661.40" stroke="#5a5a5a" stroke-width="0.9"/>
<line x1="112.72" y1="658.20" x2="112.72" y2="661.40" stroke="#5a5a5a" stroke-width="0.9"/>
<line x1="132.29" y1="658.20" x2="132.29" y2="661.40" stroke="#5a5a5a" stroke-width="0.9"/>
<line x1="151.86" y1="658.20" x2="151.86" y2="661.40" stroke="#5a5a5a" stroke-width="0.9"/>
<text transform="translate(37.54,663.60) rotate(-90)" font-size="8.7" font-family="'Liberation Sans', Arial, sans-serif" text-anchor="end" stroke="#000" stroke-width="0.12">PCA</text>
<text transform="translate(57.11,663.60) rotate(-90)" font-size="8.7" font-family="'Liberation Sans', Arial, sans-serif" text-anchor="end" stroke="#000" stroke-width="0.12">Harmony</text>
<text transform="translate(76.68,663.60) rotate(-90)" font-size="8.7" font-family="'Liberation Sans', Arial, sans-serif" text-anchor="end" stroke="#000" stroke-width="0.12">Param. Harmony</text>
<text transform="translate(96.25,663.60) rotate(-90)" font-size="8.7" font-family="'Liberation Sans', Arial, sans-serif" text-anchor="end" stroke="#000" stroke-width="0.12">multi-cond. PCA</text>
<text transform="translate(115.82,663.60) rotate(-90)" font-size="8.7" font-family="'Liberation Sans', Arial, sans-serif" text-anchor="end" stroke="#000" stroke-width="0.12">LEMUR</text>
<text transform="translate(135.39,663.60) rotate(-90)" font-size="8.7" font-family="'Liberation Sans', Arial, sans-serif" text-anchor="end" stroke="#000" stroke-width="0.12">CPA</text>
<text transform="translate(154.96,663.60) rotate(-90)" font-size="8.7" font-family="'Liberation Sans', Arial, sans-serif" text-anchor="end" stroke="#000" stroke-width="0.12">scVI</text>
<circle cx="35.04" cy="603.47" r="1.45" fill="#000"/>
<circle cx="33.40" cy="606.98" r="1.45" fill="#000"/>
<circle cx="29.79" cy="612.01" r="1.45" fill="#000"/>
<circle cx="37.78" cy="610.59" r="1.45" fill="#000"/>
<circle cx="31.76" cy="610.92" r="1.45" fill="#000"/>
<circle cx="38.33" cy="614.97" r="1.45" fill="#000"/>
<circle cx="30.66" cy="617.49" r="1.45" fill="#000"/>
<circle cx="36.14" cy="618.26" r="1.45" fill="#000"/>
<circle cx="33.62" cy="620.77" r="1.45" fill="#000"/>
<circle cx="34.50" cy="624.82" r="1.45" fill="#000"/>
<circle cx="34.50" cy="614.20" r="2.8" fill="#f00" fill-opacity="0.92"/>
<circle cx="52.01" cy="628.44" r="1.45" fill="#000"/>
<circle cx="55.30" cy="627.78" r="1.45" fill="#000"/>
<circle cx="56.94" cy="630.63" r="1.45" fill="#000"/>
<circle cx="51.25" cy="630.63" r="1.45" fill="#000"/>
<circle cx="49.50" cy="636.87" r="1.45" fill="#000"/>
<circle cx="58.04" cy="635.23" r="1.45" fill="#000"/>
<circle cx="55.30" cy="639.39" r="1.45" fill="#000"/>
<circle cx="52.78" cy="643.11" r="1.45" fill="#000"/>
<circle cx="54.20" cy="644.86" r="1.45" fill="#000"/>
<circle cx="53.88" cy="635.23" r="2.8" fill="#f00" fill-opacity="0.92"/>
<circle cx="70.30" cy="629.75" r="1.45" fill="#000"/>
<circle cx="74.24" cy="630.30" r="1.45" fill="#000"/>
<circle cx="77.20" cy="629.97" r="1.45" fill="#000"/>
<circle cx="69.53" cy="633.04" r="1.45" fill="#000"/>
<circle cx="77.53" cy="633.58" r="1.45" fill="#000"/>
<circle cx="71.72" cy="639.06" r="1.45" fill="#000"/>
<circle cx="75.01" cy="639.39" r="1.45" fill="#000"/>
<circle cx="72.82" cy="642.34" r="1.45" fill="#000"/>
<circle cx="73.58" cy="654.06" r="1.45" fill="#000"/>
<circle cx="73.58" cy="635.77" r="2.8" fill="#f00" fill-opacity="0.92"/>
<circle cx="93.90" cy="609.79" r="1.45" fill="#000"/>
<circle cx="92.04" cy="612.64" r="1.45" fill="#000"/>
<circle cx="88.44" cy="617.85" r="1.45" fill="#000"/>
<circle cx="91.17" cy="616.86" r="1.45" fill="#000"/>
<circle cx="96.13" cy="616.86" r="1.45" fill="#000"/>
<circle cx="89.93" cy="623.44" r="1.45" fill="#000"/>
<circle cx="94.27" cy="630.88" r="1.45" fill="#000"/>
<circle cx="92.41" cy="634.23" r="1.45" fill="#000"/>
<circle cx="93.40" cy="641.68" r="1.45" fill="#000"/>
<circle cx="94.10" cy="617.90" r="1.45" fill="#000"/>
<circle cx="96.30" cy="620.10" r="1.45" fill="#000"/>
<circle cx="93.15" cy="622.20" r="2.8" fill="#f00" fill-opacity="0.92"/>
<circle cx="110.77" cy="627.16" r="1.45" fill="#000"/>
<circle cx="113.75" cy="627.16" r="1.45" fill="#000"/>
<circle cx="111.27" cy="630.88" r="1.45" fill="#000"/>
<circle cx="115.36" cy="630.51" r="1.45" fill="#000"/>
<circle cx="108.54" cy="638.95" r="1.45" fill="#000"/>
<circle cx="115.99" cy="638.95" r="1.45" fill="#000"/>
<circle cx="110.77" cy="640.81" r="1.45" fill="#000"/>
<circle cx="112.88" cy="657.31" r="1.45" fill="#000"/>
<circle cx="112.88" cy="636.47" r="2.8" fill="#f00" fill-opacity="0.92"/>
<circle cx="129.64" cy="626.79" r="1.45" fill="#000"/>
<circle cx="133.36" cy="625.55" r="1.45" fill="#000"/>
<circle cx="135.84" cy="628.03" r="1.45" fill="#000"/>
<circle cx="130.26" cy="630.51" r="1.45" fill="#000"/>
<circle cx="128.39" cy="636.47" r="1.45" fill="#000"/>
<circle cx="135.84" cy="635.85" r="1.45" fill="#000"/>
<circle cx="130.26" cy="637.71" r="1.45" fill="#000"/>
<circle cx="132.36" cy="645.40" r="1.45" fill="#000"/>
<circle cx="132.36" cy="632.99" r="2.8" fill="#f00" fill-opacity="0.92"/>
<circle cx="152.59" cy="614.75" r="1.45" fill="#000"/>
<circle cx="150.98" cy="619.34" r="1.45" fill="#000"/>
<circle cx="146.76" cy="623.81" r="1.45" fill="#000"/>
<circle cx="155.94" cy="624.06" r="1.45" fill="#000"/>
<circle cx="151.97" cy="629.27" r="1.45" fill="#000"/>
<circle cx="150.11" cy="626.54" r="1.45" fill="#000"/>
<circle cx="151.97" cy="623.81" r="2.8" fill="#f00" fill-opacity="0.92"/>
<text x="170.40" y="553.00" font-size="8.5" font-family="'Liberation Sans', Arial, sans-serif" font-weight="normal" text-anchor="middle" stroke="#000" stroke-width="0.12" transform="rotate(90 170.4 553.0)" dominant-baseline="central">Holdout</text>
<text x="170.40" y="630.00" font-size="8.5" font-family="'Liberation Sans', Arial, sans-serif" font-weight="normal" text-anchor="middle" stroke="#000" stroke-width="0.12" transform="rotate(90 170.4 630.0)" dominant-baseline="central">Training</text>
</svg>
</body></html>
